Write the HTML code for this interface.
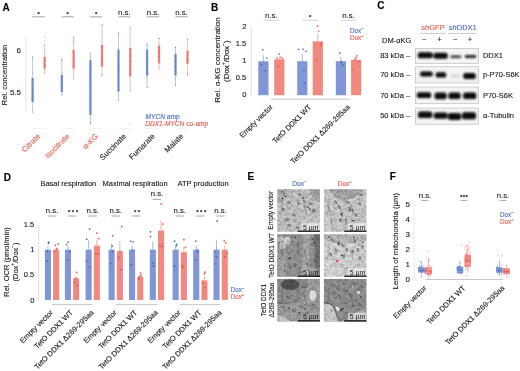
<!DOCTYPE html>
<html><head><meta charset="utf-8"><title>Figure</title>
<style>html,body{margin:0;padding:0;background:#fff;overflow:hidden;}svg{display:block;filter:blur(0.35px)}text{font-family:"Liberation Sans",sans-serif;}</style>
</head><body>
<svg width="520" height="371" viewBox="0 0 520 371">
<rect width="520" height="371" fill="#ffffff"/>
<text x="2.5" y="10.7" font-size="10" fill="#000" stroke="#000" stroke-width="0.12" font-weight="bold">A</text>
<text x="211" y="10.7" font-size="10" fill="#000" stroke="#000" stroke-width="0.12" font-weight="bold">B</text>
<text x="377.3" y="9.4" font-size="10" fill="#000" stroke="#000" stroke-width="0.12" font-weight="bold">C</text>
<text x="3.8" y="180.6" font-size="10" fill="#000" stroke="#000" stroke-width="0.12" font-weight="bold">D</text>
<text x="247.5" y="180.2" font-size="10" fill="#000" stroke="#000" stroke-width="0.12" font-weight="bold">E</text>
<text x="389.8" y="180" font-size="10" fill="#000" stroke="#000" stroke-width="0.12" font-weight="bold">F</text>
<text x="6.7" y="75" font-size="7.5" fill="#1a1a1a" stroke="#1a1a1a" stroke-width="0.12" text-anchor="middle" transform="rotate(-90 6.7 75)">Rel. concentration</text>
<text x="21.0" y="52.8" font-size="8" fill="#1a1a1a" stroke="#1a1a1a" stroke-width="0.12" text-anchor="end">6</text>
<text x="21.0" y="94.6" font-size="8" fill="#1a1a1a" stroke="#1a1a1a" stroke-width="0.12" text-anchor="end">5.5</text>
<line x1="25.9" y1="37" x2="25.9" y2="112" stroke="#dadada" stroke-width="0.7"/>
<line x1="32.6" y1="57" x2="32.6" y2="112" stroke="#a8bfe6" stroke-width="0.8"/>
<rect x="31.45" y="78.00" width="2.30" height="24.00" fill="#6283c9" opacity="0.88"/>
<circle cx="32.75" cy="92.95" r="0.6" fill="#4164c4" opacity="0.45"/>
<circle cx="32.87" cy="97.08" r="0.6" fill="#4164c4" opacity="0.45"/>
<circle cx="32.85" cy="95.76" r="0.6" fill="#4164c4" opacity="0.45"/>
<circle cx="32.58" cy="78.70" r="0.6" fill="#4164c4" opacity="0.45"/>
<circle cx="32.69" cy="100.64" r="0.6" fill="#4164c4" opacity="0.45"/>
<circle cx="32.37" cy="99.62" r="0.6" fill="#4164c4" opacity="0.45"/>
<circle cx="32.47" cy="82.80" r="0.55" fill="#6283c9" opacity="0.55"/>
<circle cx="32.64" cy="86.91" r="0.55" fill="#6283c9" opacity="0.55"/>
<circle cx="32.46" cy="57.72" r="0.55" fill="#6283c9" opacity="0.55"/>
<circle cx="32.81" cy="72.37" r="0.55" fill="#6283c9" opacity="0.55"/>
<circle cx="32.43" cy="99.11" r="0.55" fill="#6283c9" opacity="0.55"/>
<circle cx="32.60" cy="57.00" r="0.6" fill="#5a6a98" opacity="0.8"/>
<circle cx="32.60" cy="112.00" r="0.6" fill="#5a6a98" opacity="0.8"/>
<line x1="44.6" y1="45" x2="44.6" y2="73" stroke="#f4b2ab" stroke-width="0.8"/>
<rect x="43.45" y="57.00" width="2.30" height="11.40" fill="#ee726c" opacity="0.88"/>
<circle cx="44.38" cy="66.09" r="0.6" fill="#ea4a3e" opacity="0.45"/>
<circle cx="44.38" cy="64.04" r="0.6" fill="#ea4a3e" opacity="0.45"/>
<circle cx="44.82" cy="57.02" r="0.6" fill="#ea4a3e" opacity="0.45"/>
<circle cx="44.43" cy="59.39" r="0.6" fill="#ea4a3e" opacity="0.45"/>
<circle cx="44.82" cy="68.20" r="0.6" fill="#ea4a3e" opacity="0.45"/>
<circle cx="44.88" cy="60.30" r="0.6" fill="#ea4a3e" opacity="0.45"/>
<circle cx="44.69" cy="60.10" r="0.55" fill="#ee726c" opacity="0.55"/>
<circle cx="44.82" cy="50.73" r="0.55" fill="#ee726c" opacity="0.55"/>
<circle cx="44.83" cy="64.34" r="0.55" fill="#ee726c" opacity="0.55"/>
<circle cx="44.50" cy="70.02" r="0.55" fill="#ee726c" opacity="0.55"/>
<circle cx="44.43" cy="55.11" r="0.55" fill="#ee726c" opacity="0.55"/>
<circle cx="44.60" cy="45.00" r="0.6" fill="#b86a68" opacity="0.8"/>
<circle cx="44.60" cy="73.00" r="0.6" fill="#b86a68" opacity="0.8"/>
<line x1="32.4" y1="16.8" x2="44.800000000000004" y2="16.8" stroke="#a6a6a6" stroke-width="1.0"/>
<text x="38.6" y="15.6" font-size="6" fill="#1a1a1a" stroke="#1a1a1a" stroke-width="0.12" text-anchor="middle" font-weight="bold">*</text>
<line x1="32.1" y1="128.4" x2="45.1" y2="128.4" stroke="#f4e6e6" stroke-width="0.7"/>
<text x="40.9" y="136.8" font-size="7.7" fill="#ea5a4e" stroke="#ea5a4e" stroke-width="0.12" text-anchor="end" transform="rotate(-45 40.9 136.8)">Citrate</text>
<line x1="61.8" y1="59" x2="61.8" y2="95" stroke="#a8bfe6" stroke-width="0.8"/>
<rect x="60.65" y="75.00" width="2.30" height="17.00" fill="#6283c9" opacity="0.88"/>
<circle cx="61.54" cy="77.48" r="0.6" fill="#4164c4" opacity="0.45"/>
<circle cx="61.86" cy="80.12" r="0.6" fill="#4164c4" opacity="0.45"/>
<circle cx="61.91" cy="75.06" r="0.6" fill="#4164c4" opacity="0.45"/>
<circle cx="61.69" cy="80.74" r="0.6" fill="#4164c4" opacity="0.45"/>
<circle cx="61.79" cy="88.91" r="0.6" fill="#4164c4" opacity="0.45"/>
<circle cx="61.79" cy="80.37" r="0.6" fill="#4164c4" opacity="0.45"/>
<circle cx="61.58" cy="84.37" r="0.55" fill="#6283c9" opacity="0.55"/>
<circle cx="61.56" cy="94.10" r="0.55" fill="#6283c9" opacity="0.55"/>
<circle cx="61.97" cy="85.99" r="0.55" fill="#6283c9" opacity="0.55"/>
<circle cx="61.94" cy="59.65" r="0.55" fill="#6283c9" opacity="0.55"/>
<circle cx="61.84" cy="72.18" r="0.55" fill="#6283c9" opacity="0.55"/>
<circle cx="61.80" cy="59.00" r="0.6" fill="#5a6a98" opacity="0.8"/>
<circle cx="61.80" cy="95.00" r="0.6" fill="#5a6a98" opacity="0.8"/>
<line x1="73.6" y1="37" x2="73.6" y2="79" stroke="#f4b2ab" stroke-width="0.8"/>
<rect x="72.45" y="50.00" width="2.30" height="18.40" fill="#ee726c" opacity="0.88"/>
<circle cx="73.33" cy="50.17" r="0.6" fill="#ea4a3e" opacity="0.45"/>
<circle cx="73.87" cy="53.33" r="0.6" fill="#ea4a3e" opacity="0.45"/>
<circle cx="73.75" cy="53.62" r="0.6" fill="#ea4a3e" opacity="0.45"/>
<circle cx="73.87" cy="67.11" r="0.6" fill="#ea4a3e" opacity="0.45"/>
<circle cx="73.51" cy="56.34" r="0.6" fill="#ea4a3e" opacity="0.45"/>
<circle cx="73.77" cy="59.65" r="0.6" fill="#ea4a3e" opacity="0.45"/>
<circle cx="73.72" cy="41.54" r="0.55" fill="#ee726c" opacity="0.55"/>
<circle cx="73.78" cy="70.48" r="0.55" fill="#ee726c" opacity="0.55"/>
<circle cx="73.82" cy="38.54" r="0.55" fill="#ee726c" opacity="0.55"/>
<circle cx="73.52" cy="40.83" r="0.55" fill="#ee726c" opacity="0.55"/>
<circle cx="73.81" cy="62.65" r="0.55" fill="#ee726c" opacity="0.55"/>
<circle cx="73.60" cy="37.00" r="0.6" fill="#b86a68" opacity="0.8"/>
<circle cx="73.60" cy="79.00" r="0.6" fill="#b86a68" opacity="0.8"/>
<line x1="61.599999999999994" y1="16.8" x2="73.8" y2="16.8" stroke="#a6a6a6" stroke-width="1.0"/>
<text x="67.69999999999999" y="15.6" font-size="6" fill="#1a1a1a" stroke="#1a1a1a" stroke-width="0.12" text-anchor="middle" font-weight="bold">*</text>
<line x1="61.3" y1="128.4" x2="74.1" y2="128.4" stroke="#f4e6e6" stroke-width="0.7"/>
<text x="69.99999999999999" y="136.8" font-size="7.7" fill="#ea5a4e" stroke="#ea5a4e" stroke-width="0.12" text-anchor="end" transform="rotate(-45 69.99999999999999 136.8)">Isocitrate</text>
<line x1="90.4" y1="53" x2="90.4" y2="123.5" stroke="#a8bfe6" stroke-width="0.8"/>
<rect x="89.25" y="60.00" width="2.30" height="55.00" fill="#6283c9" opacity="0.88"/>
<circle cx="90.65" cy="78.70" r="0.6" fill="#4164c4" opacity="0.45"/>
<circle cx="90.29" cy="89.98" r="0.6" fill="#4164c4" opacity="0.45"/>
<circle cx="90.21" cy="77.42" r="0.6" fill="#4164c4" opacity="0.45"/>
<circle cx="90.19" cy="64.30" r="0.6" fill="#4164c4" opacity="0.45"/>
<circle cx="90.70" cy="97.90" r="0.6" fill="#4164c4" opacity="0.45"/>
<circle cx="90.13" cy="68.88" r="0.6" fill="#4164c4" opacity="0.45"/>
<circle cx="90.42" cy="122.56" r="0.55" fill="#6283c9" opacity="0.55"/>
<circle cx="90.27" cy="81.62" r="0.55" fill="#6283c9" opacity="0.55"/>
<circle cx="90.56" cy="94.87" r="0.55" fill="#6283c9" opacity="0.55"/>
<circle cx="90.36" cy="85.12" r="0.55" fill="#6283c9" opacity="0.55"/>
<circle cx="90.61" cy="56.93" r="0.55" fill="#6283c9" opacity="0.55"/>
<circle cx="90.40" cy="53.00" r="0.6" fill="#5a6a98" opacity="0.8"/>
<circle cx="90.40" cy="123.50" r="0.6" fill="#5a6a98" opacity="0.8"/>
<line x1="102" y1="24.7" x2="102" y2="75.8" stroke="#f4b2ab" stroke-width="0.8"/>
<rect x="100.85" y="45.00" width="2.30" height="21.80" fill="#ee726c" opacity="0.88"/>
<circle cx="102.00" cy="45.71" r="0.6" fill="#ea4a3e" opacity="0.45"/>
<circle cx="101.78" cy="63.28" r="0.6" fill="#ea4a3e" opacity="0.45"/>
<circle cx="102.27" cy="60.95" r="0.6" fill="#ea4a3e" opacity="0.45"/>
<circle cx="102.17" cy="58.74" r="0.6" fill="#ea4a3e" opacity="0.45"/>
<circle cx="101.96" cy="47.32" r="0.6" fill="#ea4a3e" opacity="0.45"/>
<circle cx="102.21" cy="48.25" r="0.6" fill="#ea4a3e" opacity="0.45"/>
<circle cx="101.98" cy="39.76" r="0.55" fill="#ee726c" opacity="0.55"/>
<circle cx="102.18" cy="75.76" r="0.55" fill="#ee726c" opacity="0.55"/>
<circle cx="101.98" cy="74.57" r="0.55" fill="#ee726c" opacity="0.55"/>
<circle cx="102.11" cy="49.64" r="0.55" fill="#ee726c" opacity="0.55"/>
<circle cx="101.90" cy="49.18" r="0.55" fill="#ee726c" opacity="0.55"/>
<circle cx="102.00" cy="24.70" r="0.6" fill="#b86a68" opacity="0.8"/>
<circle cx="102.00" cy="75.80" r="0.6" fill="#b86a68" opacity="0.8"/>
<line x1="90.2" y1="16.8" x2="102.2" y2="16.8" stroke="#a6a6a6" stroke-width="1.0"/>
<text x="96.2" y="15.6" font-size="6" fill="#1a1a1a" stroke="#1a1a1a" stroke-width="0.12" text-anchor="middle" font-weight="bold">*</text>
<line x1="89.9" y1="128.4" x2="102.5" y2="128.4" stroke="#f4e6e6" stroke-width="0.7"/>
<text x="98.5" y="136.8" font-size="7.7" fill="#ea5a4e" stroke="#ea5a4e" stroke-width="0.12" text-anchor="end" transform="rotate(-45 98.5 136.8)">α-KG</text>
<line x1="118.5" y1="32.8" x2="118.5" y2="100.5" stroke="#a8bfe6" stroke-width="0.8"/>
<rect x="117.35" y="49.50" width="2.30" height="42.00" fill="#6283c9" opacity="0.88"/>
<circle cx="118.29" cy="66.46" r="0.6" fill="#4164c4" opacity="0.45"/>
<circle cx="118.79" cy="65.33" r="0.6" fill="#4164c4" opacity="0.45"/>
<circle cx="118.58" cy="89.81" r="0.6" fill="#4164c4" opacity="0.45"/>
<circle cx="118.40" cy="70.47" r="0.6" fill="#4164c4" opacity="0.45"/>
<circle cx="118.36" cy="53.24" r="0.6" fill="#4164c4" opacity="0.45"/>
<circle cx="118.72" cy="82.34" r="0.6" fill="#4164c4" opacity="0.45"/>
<circle cx="118.64" cy="57.26" r="0.55" fill="#6283c9" opacity="0.55"/>
<circle cx="118.60" cy="85.26" r="0.55" fill="#6283c9" opacity="0.55"/>
<circle cx="118.63" cy="77.75" r="0.55" fill="#6283c9" opacity="0.55"/>
<circle cx="118.60" cy="57.40" r="0.55" fill="#6283c9" opacity="0.55"/>
<circle cx="118.49" cy="51.81" r="0.55" fill="#6283c9" opacity="0.55"/>
<circle cx="118.50" cy="32.80" r="0.6" fill="#5a6a98" opacity="0.8"/>
<circle cx="118.50" cy="100.50" r="0.6" fill="#5a6a98" opacity="0.8"/>
<line x1="130.2" y1="27.3" x2="130.2" y2="91" stroke="#f4b2ab" stroke-width="0.8"/>
<rect x="129.05" y="48.00" width="2.30" height="28.50" fill="#ee726c" opacity="0.88"/>
<circle cx="130.31" cy="69.94" r="0.6" fill="#ea4a3e" opacity="0.45"/>
<circle cx="130.47" cy="56.37" r="0.6" fill="#ea4a3e" opacity="0.45"/>
<circle cx="130.25" cy="66.52" r="0.6" fill="#ea4a3e" opacity="0.45"/>
<circle cx="130.23" cy="48.33" r="0.6" fill="#ea4a3e" opacity="0.45"/>
<circle cx="130.30" cy="55.14" r="0.6" fill="#ea4a3e" opacity="0.45"/>
<circle cx="130.39" cy="61.19" r="0.6" fill="#ea4a3e" opacity="0.45"/>
<circle cx="130.35" cy="68.54" r="0.55" fill="#ee726c" opacity="0.55"/>
<circle cx="130.27" cy="49.46" r="0.55" fill="#ee726c" opacity="0.55"/>
<circle cx="130.36" cy="74.30" r="0.55" fill="#ee726c" opacity="0.55"/>
<circle cx="130.37" cy="49.60" r="0.55" fill="#ee726c" opacity="0.55"/>
<circle cx="130.29" cy="82.71" r="0.55" fill="#ee726c" opacity="0.55"/>
<circle cx="130.20" cy="27.30" r="0.6" fill="#b86a68" opacity="0.8"/>
<circle cx="130.20" cy="91.00" r="0.6" fill="#b86a68" opacity="0.8"/>
<line x1="118.3" y1="16.8" x2="130.39999999999998" y2="16.8" stroke="#a6a6a6" stroke-width="1.0"/>
<text x="124.35" y="14.9" font-size="7.8" fill="#1a1a1a" stroke="#1a1a1a" stroke-width="0.12" text-anchor="middle">n.s.</text>
<line x1="118.0" y1="128.4" x2="130.7" y2="128.4" stroke="#e9e9e9" stroke-width="0.7"/>
<text x="126.64999999999999" y="136.8" font-size="7.7" fill="#1a1a1a" stroke="#1a1a1a" stroke-width="0.12" text-anchor="end" transform="rotate(-45 126.64999999999999 136.8)">Succinate</text>
<line x1="147.1" y1="44" x2="147.1" y2="87.5" stroke="#a8bfe6" stroke-width="0.8"/>
<rect x="145.95" y="49.50" width="2.30" height="26.00" fill="#6283c9" opacity="0.88"/>
<circle cx="147.37" cy="74.88" r="0.6" fill="#4164c4" opacity="0.45"/>
<circle cx="147.12" cy="62.97" r="0.6" fill="#4164c4" opacity="0.45"/>
<circle cx="147.30" cy="53.82" r="0.6" fill="#4164c4" opacity="0.45"/>
<circle cx="147.09" cy="73.87" r="0.6" fill="#4164c4" opacity="0.45"/>
<circle cx="147.23" cy="67.48" r="0.6" fill="#4164c4" opacity="0.45"/>
<circle cx="146.90" cy="68.49" r="0.6" fill="#4164c4" opacity="0.45"/>
<circle cx="147.14" cy="77.95" r="0.55" fill="#6283c9" opacity="0.55"/>
<circle cx="147.06" cy="72.95" r="0.55" fill="#6283c9" opacity="0.55"/>
<circle cx="147.24" cy="71.13" r="0.55" fill="#6283c9" opacity="0.55"/>
<circle cx="147.21" cy="71.70" r="0.55" fill="#6283c9" opacity="0.55"/>
<circle cx="146.93" cy="45.20" r="0.55" fill="#6283c9" opacity="0.55"/>
<circle cx="147.10" cy="44.00" r="0.6" fill="#5a6a98" opacity="0.8"/>
<circle cx="147.10" cy="87.50" r="0.6" fill="#5a6a98" opacity="0.8"/>
<line x1="159" y1="38.3" x2="159" y2="68.6" stroke="#f4b2ab" stroke-width="0.8"/>
<rect x="157.85" y="46.00" width="2.30" height="17.50" fill="#ee726c" opacity="0.88"/>
<circle cx="159.09" cy="53.72" r="0.6" fill="#ea4a3e" opacity="0.45"/>
<circle cx="159.11" cy="49.83" r="0.6" fill="#ea4a3e" opacity="0.45"/>
<circle cx="158.73" cy="57.04" r="0.6" fill="#ea4a3e" opacity="0.45"/>
<circle cx="158.84" cy="54.25" r="0.6" fill="#ea4a3e" opacity="0.45"/>
<circle cx="158.78" cy="46.95" r="0.6" fill="#ea4a3e" opacity="0.45"/>
<circle cx="158.81" cy="51.55" r="0.6" fill="#ea4a3e" opacity="0.45"/>
<circle cx="158.77" cy="44.16" r="0.55" fill="#ee726c" opacity="0.55"/>
<circle cx="158.94" cy="52.40" r="0.55" fill="#ee726c" opacity="0.55"/>
<circle cx="159.05" cy="56.84" r="0.55" fill="#ee726c" opacity="0.55"/>
<circle cx="159.20" cy="45.51" r="0.55" fill="#ee726c" opacity="0.55"/>
<circle cx="158.95" cy="38.32" r="0.55" fill="#ee726c" opacity="0.55"/>
<circle cx="159.00" cy="38.30" r="0.6" fill="#b86a68" opacity="0.8"/>
<circle cx="159.00" cy="68.60" r="0.6" fill="#b86a68" opacity="0.8"/>
<line x1="146.9" y1="16.8" x2="159.2" y2="16.8" stroke="#a6a6a6" stroke-width="1.0"/>
<text x="153.05" y="14.9" font-size="7.8" fill="#1a1a1a" stroke="#1a1a1a" stroke-width="0.12" text-anchor="middle">n.s.</text>
<line x1="146.6" y1="128.4" x2="159.5" y2="128.4" stroke="#e9e9e9" stroke-width="0.7"/>
<text x="155.35000000000002" y="136.8" font-size="7.7" fill="#1a1a1a" stroke="#1a1a1a" stroke-width="0.12" text-anchor="end" transform="rotate(-45 155.35000000000002 136.8)">Fumarate</text>
<line x1="175.5" y1="47.4" x2="175.5" y2="85.5" stroke="#a8bfe6" stroke-width="0.8"/>
<rect x="174.35" y="53.80" width="2.30" height="21.70" fill="#6283c9" opacity="0.88"/>
<circle cx="175.45" cy="59.84" r="0.6" fill="#4164c4" opacity="0.45"/>
<circle cx="175.70" cy="56.30" r="0.6" fill="#4164c4" opacity="0.45"/>
<circle cx="175.22" cy="61.91" r="0.6" fill="#4164c4" opacity="0.45"/>
<circle cx="175.26" cy="67.11" r="0.6" fill="#4164c4" opacity="0.45"/>
<circle cx="175.40" cy="65.63" r="0.6" fill="#4164c4" opacity="0.45"/>
<circle cx="175.77" cy="66.41" r="0.6" fill="#4164c4" opacity="0.45"/>
<circle cx="175.46" cy="78.59" r="0.55" fill="#6283c9" opacity="0.55"/>
<circle cx="175.57" cy="78.37" r="0.55" fill="#6283c9" opacity="0.55"/>
<circle cx="175.32" cy="61.48" r="0.55" fill="#6283c9" opacity="0.55"/>
<circle cx="175.53" cy="70.11" r="0.55" fill="#6283c9" opacity="0.55"/>
<circle cx="175.73" cy="83.87" r="0.55" fill="#6283c9" opacity="0.55"/>
<circle cx="175.50" cy="47.40" r="0.6" fill="#5a6a98" opacity="0.8"/>
<circle cx="175.50" cy="85.50" r="0.6" fill="#5a6a98" opacity="0.8"/>
<line x1="187.5" y1="39.3" x2="187.5" y2="75" stroke="#f4b2ab" stroke-width="0.8"/>
<rect x="186.35" y="50.60" width="2.30" height="13.20" fill="#ee726c" opacity="0.88"/>
<circle cx="187.41" cy="58.63" r="0.6" fill="#ea4a3e" opacity="0.45"/>
<circle cx="187.20" cy="62.39" r="0.6" fill="#ea4a3e" opacity="0.45"/>
<circle cx="187.54" cy="52.02" r="0.6" fill="#ea4a3e" opacity="0.45"/>
<circle cx="187.28" cy="58.72" r="0.6" fill="#ea4a3e" opacity="0.45"/>
<circle cx="187.73" cy="58.91" r="0.6" fill="#ea4a3e" opacity="0.45"/>
<circle cx="187.46" cy="55.56" r="0.6" fill="#ea4a3e" opacity="0.45"/>
<circle cx="187.40" cy="47.38" r="0.55" fill="#ee726c" opacity="0.55"/>
<circle cx="187.44" cy="74.02" r="0.55" fill="#ee726c" opacity="0.55"/>
<circle cx="187.71" cy="73.61" r="0.55" fill="#ee726c" opacity="0.55"/>
<circle cx="187.38" cy="60.57" r="0.55" fill="#ee726c" opacity="0.55"/>
<circle cx="187.50" cy="74.32" r="0.55" fill="#ee726c" opacity="0.55"/>
<circle cx="187.50" cy="39.30" r="0.6" fill="#b86a68" opacity="0.8"/>
<circle cx="187.50" cy="75.00" r="0.6" fill="#b86a68" opacity="0.8"/>
<line x1="175.3" y1="16.8" x2="187.7" y2="16.8" stroke="#a6a6a6" stroke-width="1.0"/>
<text x="181.5" y="14.9" font-size="7.8" fill="#1a1a1a" stroke="#1a1a1a" stroke-width="0.12" text-anchor="middle">n.s.</text>
<line x1="175.0" y1="128.4" x2="188.0" y2="128.4" stroke="#e9e9e9" stroke-width="0.7"/>
<text x="183.8" y="136.8" font-size="7.7" fill="#1a1a1a" stroke="#1a1a1a" stroke-width="0.12" text-anchor="end" transform="rotate(-45 183.8 136.8)">Malate</text>
<circle cx="44.60" cy="37.00" r="0.6" fill="#ea4a3e" opacity="0.7"/>
<circle cx="44.60" cy="41.00" r="0.6" fill="#ea4a3e" opacity="0.7"/>
<circle cx="130.20" cy="124.00" r="0.6" fill="#ea4a3e" opacity="0.6"/>
<text x="145.6" y="118.5" font-size="6.6" fill="#4a6ec0" stroke="#4a6ec0" stroke-width="0.12"><tspan font-style="italic">MYCN</tspan> amp</text>
<text x="145.2" y="125.9" font-size="6.6" fill="#ea5a4e" stroke="#ea5a4e" stroke-width="0.12"><tspan font-style="italic">DDX1-MYCN</tspan> co-amp</text>
<text x="219.8" y="60" font-size="8" fill="#1a1a1a" stroke="#1a1a1a" stroke-width="0.12" text-anchor="middle" transform="rotate(-90 219.8 60)">Rel. α-KG concentration</text>
<text x="228.8" y="61.2" font-size="8" fill="#1a1a1a" stroke="#1a1a1a" stroke-width="0.12" text-anchor="middle" transform="rotate(-90 228.8 61.2)">(Dox<tspan font-size="60%" dy="-0.75em">+</tspan><tspan dy='0.45em'>/Dox</tspan><tspan font-size="60%" dy="-0.75em">−</tspan><tspan dy='0.45em'>)</tspan></text>
<text x="246.3" y="28.60000000000001" font-size="7.5" fill="#1a1a1a" stroke="#1a1a1a" stroke-width="0.12" text-anchor="end">2</text>
<text x="246.3" y="45.75000000000001" font-size="7.5" fill="#1a1a1a" stroke="#1a1a1a" stroke-width="0.12" text-anchor="end">1.5</text>
<text x="246.3" y="62.900000000000006" font-size="7.5" fill="#1a1a1a" stroke="#1a1a1a" stroke-width="0.12" text-anchor="end">1</text>
<text x="246.3" y="80.05000000000001" font-size="7.5" fill="#1a1a1a" stroke="#1a1a1a" stroke-width="0.12" text-anchor="end">0.5</text>
<text x="246.3" y="97.2" font-size="7.5" fill="#1a1a1a" stroke="#1a1a1a" stroke-width="0.12" text-anchor="end">0</text>
<line x1="251.2" y1="26.60000000000001" x2="251.2" y2="95.2" stroke="#cfcfcf" stroke-width="0.7"/>
<rect x="258.30" y="61.24" width="10.20" height="33.96" fill="#8196d4"/>
<line x1="263.40000000000003" y1="55.285868392664504" x2="263.40000000000003" y2="62.24300000000001" stroke="#8196d4" stroke-width="0.7"/>
<circle cx="262.68" cy="49.89" r="0.85" fill="#4164c4" opacity="0.9"/>
<circle cx="266.72" cy="57.98" r="0.85" fill="#4164c4" opacity="0.9"/>
<circle cx="261.60" cy="64.72" r="0.85" fill="#4164c4" opacity="0.9"/>
<circle cx="265.37" cy="70.66" r="0.85" fill="#4164c4" opacity="0.9"/>
<rect x="274.20" y="59.36" width="10.20" height="35.84" fill="#f08a80"/>
<line x1="279.3" y1="55.285868392664504" x2="279.3" y2="60.35650000000001" stroke="#f08a80" stroke-width="0.7"/>
<circle cx="279.13" cy="53.94" r="0.85" fill="#ea4a3e" opacity="0.9"/>
<circle cx="276.97" cy="57.98" r="0.85" fill="#ea4a3e" opacity="0.9"/>
<circle cx="281.01" cy="57.44" r="0.85" fill="#ea4a3e" opacity="0.9"/>
<circle cx="282.90" cy="58.79" r="0.85" fill="#ea4a3e" opacity="0.9"/>
<circle cx="278.32" cy="66.07" r="0.85" fill="#ea4a3e" opacity="0.9"/>
<line x1="263.40000000000003" y1="20.2" x2="279.3" y2="20.2" stroke="#c4c4c4" stroke-width="0.8"/>
<text x="271.35" y="17.8" font-size="7.8" fill="#1a1a1a" stroke="#1a1a1a" stroke-width="0.12" text-anchor="middle">n.s.</text>
<text x="273.15000000000003" y="107.6" font-size="7.45" fill="#1a1a1a" stroke="#1a1a1a" stroke-width="0.12" text-anchor="end" transform="rotate(-45 273.15000000000003 107.6)">Empty vector</text>
<rect x="297.20" y="61.24" width="10.20" height="33.96" fill="#8196d4"/>
<line x1="302.3" y1="53.937432578209275" x2="302.3" y2="62.24300000000001" stroke="#8196d4" stroke-width="0.7"/>
<circle cx="298.54" cy="49.35" r="0.85" fill="#4164c4" opacity="0.9"/>
<circle cx="303.13" cy="49.35" r="0.85" fill="#4164c4" opacity="0.9"/>
<circle cx="306.09" cy="51.24" r="0.85" fill="#4164c4" opacity="0.9"/>
<circle cx="303.94" cy="70.66" r="0.85" fill="#4164c4" opacity="0.9"/>
<circle cx="304.75" cy="83.06" r="0.85" fill="#4164c4" opacity="0.9"/>
<rect x="312.70" y="41.35" width="10.20" height="53.85" fill="#f08a80"/>
<line x1="317.8" y1="33.7108953613808" x2="317.8" y2="42.349000000000004" stroke="#f08a80" stroke-width="0.7"/>
<circle cx="317.42" cy="26.16" r="0.85" fill="#ea4a3e" opacity="0.9"/>
<circle cx="318.77" cy="31.01" r="0.85" fill="#ea4a3e" opacity="0.9"/>
<circle cx="321.47" cy="43.15" r="0.85" fill="#ea4a3e" opacity="0.9"/>
<circle cx="320.66" cy="45.31" r="0.85" fill="#ea4a3e" opacity="0.9"/>
<circle cx="316.88" cy="60.68" r="0.85" fill="#ea4a3e" opacity="0.9"/>
<line x1="302.3" y1="20.2" x2="317.8" y2="20.2" stroke="#c4c4c4" stroke-width="0.8"/>
<text x="310.05" y="19.4" font-size="6" fill="#1a1a1a" stroke="#1a1a1a" stroke-width="0.12" text-anchor="middle" font-weight="bold">*</text>
<text x="311.85" y="107.6" font-size="7.45" fill="#1a1a1a" stroke="#1a1a1a" stroke-width="0.12" text-anchor="end" transform="rotate(-45 311.85 107.6)">TetO DDX1 WT</text>
<rect x="335.80" y="61.24" width="10.20" height="33.96" fill="#8196d4"/>
<line x1="340.90000000000003" y1="56.63430420711974" x2="340.90000000000003" y2="62.24300000000001" stroke="#8196d4" stroke-width="0.7"/>
<circle cx="339.81" cy="53.13" r="0.85" fill="#4164c4" opacity="0.9"/>
<circle cx="341.69" cy="62.57" r="0.85" fill="#4164c4" opacity="0.9"/>
<circle cx="343.04" cy="64.72" r="0.85" fill="#4164c4" opacity="0.9"/>
<circle cx="341.15" cy="61.49" r="0.85" fill="#4164c4" opacity="0.9"/>
<rect x="351.10" y="59.87" width="10.20" height="35.33" fill="#f08a80"/>
<line x1="356.20000000000005" y1="56.09492988133765" x2="356.20000000000005" y2="60.871" stroke="#f08a80" stroke-width="0.7"/>
<circle cx="357.07" cy="55.83" r="0.85" fill="#ea4a3e" opacity="0.9"/>
<circle cx="355.72" cy="57.98" r="0.85" fill="#ea4a3e" opacity="0.9"/>
<circle cx="354.64" cy="59.87" r="0.85" fill="#ea4a3e" opacity="0.9"/>
<circle cx="358.68" cy="61.49" r="0.85" fill="#ea4a3e" opacity="0.9"/>
<circle cx="352.48" cy="69.58" r="0.85" fill="#ea4a3e" opacity="0.9"/>
<line x1="340.90000000000003" y1="20.2" x2="356.20000000000005" y2="20.2" stroke="#c4c4c4" stroke-width="0.8"/>
<text x="348.55000000000007" y="17.8" font-size="7.8" fill="#1a1a1a" stroke="#1a1a1a" stroke-width="0.12" text-anchor="middle">n.s.</text>
<text x="350.3500000000001" y="107.6" font-size="7.45" fill="#1a1a1a" stroke="#1a1a1a" stroke-width="0.12" text-anchor="end" transform="rotate(-45 350.3500000000001 107.6)">TetO DDX1 Δ269-295aa</text>
<line x1="271" y1="99.2" x2="349.5" y2="99.2" stroke="#c6c6c6" stroke-width="1.0"/>
<text x="350" y="32.5" font-size="6.3" fill="#4a6ec0" stroke="#4a6ec0" stroke-width="0.12">Dox<tspan font-size="60%" dy="-0.75em">−</tspan></text>
<text x="350" y="39.6" font-size="6.3" fill="#ea5a4e" stroke="#ea5a4e" stroke-width="0.12">Dox<tspan font-size="60%" dy="-0.75em">+</tspan></text>
<text x="421.3" y="30" font-size="7.5" fill="#ea5a4e" stroke="#ea5a4e" stroke-width="0.12"><tspan font-style="italic">sh</tspan>GFP</text>
<text x="448.8" y="30" font-size="7.5" fill="#4a6ec0" stroke="#4a6ec0" stroke-width="0.12"><tspan font-style="italic">sh</tspan>DDX1</text>
<line x1="420" y1="33.4" x2="445.3" y2="33.4" stroke="#c4b8b8" stroke-width="0.8"/>
<line x1="448.2" y1="33.4" x2="476.4" y2="33.4" stroke="#b6bacb" stroke-width="0.8"/>
<text x="382" y="42.5" font-size="7.5" fill="#1a1a1a" stroke="#1a1a1a" stroke-width="0.12">DM-αKG</text>
<text x="424.3" y="41.8" font-size="7.5" fill="#1a1a1a" stroke="#1a1a1a" stroke-width="0.12" text-anchor="middle">−</text>
<text x="439.4" y="41.8" font-size="7.5" fill="#1a1a1a" stroke="#1a1a1a" stroke-width="0.12" text-anchor="middle">+</text>
<text x="455.2" y="41.8" font-size="7.5" fill="#1a1a1a" stroke="#1a1a1a" stroke-width="0.12" text-anchor="middle">−</text>
<text x="469.9" y="41.8" font-size="7.5" fill="#1a1a1a" stroke="#1a1a1a" stroke-width="0.12" text-anchor="middle">+</text>
<defs><filter id="bl" x="-20%" y="-50%" width="140%" height="200%"><feGaussianBlur stdDeviation="0.85"/></filter></defs>
<rect x="415.50" y="48.30" width="63.20" height="15.10" fill="#f3f3f3" stroke="#a6a6a6" stroke-width="0.5"/>
<g filter="url(#bl)">
<rect x="417.8" y="52.30" width="15.00" height="6.0" rx="2.60" fill="#080808" opacity="1"/>
<rect x="433.6" y="52.80" width="14.10" height="6.0" rx="2.60" fill="#080808" opacity="1"/>
<rect x="450.5" y="55.40" width="10.70" height="2.6" rx="1.30" fill="#080808" opacity="0.85"/>
<rect x="464.8" y="55.05" width="11.30" height="2.9" rx="1.45" fill="#080808" opacity="0.9"/>
</g>
<text x="410.2" y="58.1" font-size="7.5" fill="#1a1a1a" stroke="#1a1a1a" stroke-width="0.12" text-anchor="end">83 kDa –</text>
<text x="482.9" y="58.1" font-size="7.5" fill="#1a1a1a" stroke="#1a1a1a" stroke-width="0.12">DDX1</text>
<rect x="415.50" y="66.80" width="63.20" height="16.20" fill="#f3f3f3" stroke="#a6a6a6" stroke-width="0.5"/>
<g filter="url(#bl)">
<rect x="420" y="71.50" width="12.80" height="5.0" rx="2.50" fill="#080808" opacity="1"/>
<rect x="435.6" y="72.20" width="10.70" height="5.4" rx="2.60" fill="#080808" opacity="1"/>
<rect x="450.5" y="74.70" width="9.50" height="2.6" rx="1.30" fill="#080808" opacity="0.14"/>
<rect x="463.3" y="73.00" width="12.40" height="6.0" rx="2.60" fill="#080808" opacity="1"/>
</g>
<text x="410.2" y="77.2" font-size="7.5" fill="#1a1a1a" stroke="#1a1a1a" stroke-width="0.12" text-anchor="end">70 kDa –</text>
<text x="482.9" y="77.2" font-size="7.5" fill="#1a1a1a" stroke="#1a1a1a" stroke-width="0.12">p-P70-S6K</text>
<rect x="415.50" y="87.00" width="63.20" height="16.80" fill="#f3f3f3" stroke="#a6a6a6" stroke-width="0.5"/>
<g filter="url(#bl)">
<rect x="416.8" y="92.30" width="14.40" height="5.8" rx="2.60" fill="#080808" opacity="1"/>
<rect x="434.6" y="92.50" width="12.00" height="6.8" rx="2.60" fill="#080808" opacity="1"/>
<rect x="448.4" y="92.40" width="12.20" height="6.6" rx="2.60" fill="#080808" opacity="1"/>
<rect x="463.2" y="92.50" width="13.10" height="6.6" rx="2.60" fill="#080808" opacity="1"/>
</g>
<text x="410.2" y="97.7" font-size="7.5" fill="#1a1a1a" stroke="#1a1a1a" stroke-width="0.12" text-anchor="end">70 kDa –</text>
<text x="482.9" y="97.7" font-size="7.5" fill="#1a1a1a" stroke="#1a1a1a" stroke-width="0.12">P70-S6K</text>
<rect x="415.50" y="108.00" width="63.20" height="16.20" fill="#f3f3f3" stroke="#a6a6a6" stroke-width="0.5"/>
<g filter="url(#bl)">
<rect x="418" y="111.60" width="14.30" height="6.4" rx="2.60" fill="#080808" opacity="1"/>
<rect x="433.8" y="112.40" width="13.80" height="6.4" rx="2.60" fill="#080808" opacity="1"/>
<rect x="448.0" y="112.90" width="13.20" height="7.0" rx="2.60" fill="#080808" opacity="1"/>
<rect x="462" y="112.30" width="14.00" height="7.0" rx="2.60" fill="#080808" opacity="1"/>
</g>
<text x="410.2" y="118.10000000000001" font-size="7.5" fill="#1a1a1a" stroke="#1a1a1a" stroke-width="0.12" text-anchor="end">50 kDa –</text>
<text x="482.9" y="118.10000000000001" font-size="7.5" fill="#1a1a1a" stroke="#1a1a1a" stroke-width="0.12">α-Tubulin</text>
<text x="9.4" y="262" font-size="7.5" fill="#1a1a1a" stroke="#1a1a1a" stroke-width="0.12" text-anchor="middle" transform="rotate(-90 9.4 262)">Rel. OCR (pmol/min)</text>
<text x="17.8" y="262" font-size="7.5" fill="#1a1a1a" stroke="#1a1a1a" stroke-width="0.12" text-anchor="middle" transform="rotate(-90 17.8 262)">(Dox<tspan font-size="60%" dy="-0.75em">+</tspan><tspan dy='0.45em'>/Dox</tspan><tspan font-size="60%" dy="-0.75em">−</tspan><tspan dy='0.45em'>)</tspan></text>
<text x="34.3" y="227.15" font-size="7.5" fill="#1a1a1a" stroke="#1a1a1a" stroke-width="0.12" text-anchor="end">1.5</text>
<text x="34.3" y="252.29999999999998" font-size="7.5" fill="#1a1a1a" stroke="#1a1a1a" stroke-width="0.12" text-anchor="end">1</text>
<text x="34.3" y="277.45000000000005" font-size="7.5" fill="#1a1a1a" stroke="#1a1a1a" stroke-width="0.12" text-anchor="end">0.5</text>
<text x="34.3" y="302.6" font-size="7.5" fill="#1a1a1a" stroke="#1a1a1a" stroke-width="0.12" text-anchor="end">0</text>
<line x1="38.7" y1="224.55" x2="38.7" y2="300" stroke="#cfcfcf" stroke-width="0.7"/>
<text x="40.4" y="185.9" font-size="7.5" fill="#1a1a1a" stroke="#1a1a1a" stroke-width="0.12">Basal respiration</text>
<text x="102.6" y="185.9" font-size="7.5" fill="#1a1a1a" stroke="#1a1a1a" stroke-width="0.12">Maximal respiration</text>
<text x="177.6" y="185.9" font-size="7.5" fill="#1a1a1a" stroke="#1a1a1a" stroke-width="0.12">ATP production</text>
<rect x="44.90" y="249.70" width="6.10" height="50.30" fill="#8196d4"/>
<line x1="47.949999999999996" y1="246.31800970873786" x2="47.949999999999996" y2="250.7" stroke="#8196d4" stroke-width="0.7"/>
<circle cx="48.83" cy="242.18" r="0.9" fill="#4164c4" opacity="0.9"/>
<circle cx="48.35" cy="243.40" r="0.9" fill="#4164c4" opacity="0.9"/>
<circle cx="47.14" cy="251.41" r="0.9" fill="#4164c4" opacity="0.9"/>
<circle cx="47.14" cy="261.12" r="0.9" fill="#4164c4" opacity="0.9"/>
<rect x="53.10" y="249.70" width="6.10" height="50.30" fill="#f08a80"/>
<line x1="56.14999999999999" y1="247.19179611650483" x2="56.14999999999999" y2="250.7" stroke="#f08a80" stroke-width="0.7"/>
<circle cx="55.15" cy="245.34" r="0.9" fill="#ea4a3e" opacity="0.9"/>
<circle cx="58.06" cy="244.13" r="0.9" fill="#ea4a3e" opacity="0.9"/>
<circle cx="56.84" cy="248.98" r="0.9" fill="#ea4a3e" opacity="0.9"/>
<circle cx="54.42" cy="251.41" r="0.9" fill="#ea4a3e" opacity="0.9"/>
<line x1="47.849999999999994" y1="216.0" x2="56.25" y2="216.0" stroke="#a6a6a6" stroke-width="1.0"/>
<text x="52.05" y="212.9" font-size="7.8" fill="#1a1a1a" stroke="#1a1a1a" stroke-width="0.12" text-anchor="middle">n.s.</text>
<text x="53.55" y="313" font-size="7.45" fill="#1a1a1a" stroke="#1a1a1a" stroke-width="0.12" text-anchor="end" transform="rotate(-45 53.55 313)">Empty vector</text>
<rect x="64.90" y="249.70" width="6.10" height="50.30" fill="#8196d4"/>
<line x1="67.95" y1="246.31800970873786" x2="67.95" y2="250.7" stroke="#8196d4" stroke-width="0.7"/>
<circle cx="68.25" cy="242.18" r="0.9" fill="#4164c4" opacity="0.9"/>
<circle cx="66.55" cy="244.61" r="0.9" fill="#4164c4" opacity="0.9"/>
<circle cx="69.71" cy="251.41" r="0.9" fill="#4164c4" opacity="0.9"/>
<circle cx="67.77" cy="259.90" r="0.9" fill="#4164c4" opacity="0.9"/>
<rect x="73.10" y="278.37" width="6.10" height="21.63" fill="#f08a80"/>
<line x1="76.15" y1="275.7399723300971" x2="76.15" y2="279.371" stroke="#f08a80" stroke-width="0.7"/>
<circle cx="76.75" cy="272.52" r="0.9" fill="#ea4a3e" opacity="0.9"/>
<circle cx="75.78" cy="278.59" r="0.9" fill="#ea4a3e" opacity="0.9"/>
<circle cx="75.05" cy="282.48" r="0.9" fill="#ea4a3e" opacity="0.9"/>
<circle cx="77.48" cy="285.39" r="0.9" fill="#ea4a3e" opacity="0.9"/>
<line x1="67.85000000000001" y1="216.0" x2="76.25000000000001" y2="216.0" stroke="#a6a6a6" stroke-width="1.0"/>
<text x="73.75000000000001" y="214.0" font-size="6" fill="#1a1a1a" stroke="#1a1a1a" stroke-width="0.12" text-anchor="middle" font-weight="bold" letter-spacing="1.5">***</text>
<text x="73.55000000000001" y="313" font-size="7.45" fill="#1a1a1a" stroke="#1a1a1a" stroke-width="0.12" text-anchor="end" transform="rotate(-45 73.55000000000001 313)">TetO DDX1 WT</text>
<rect x="85.60" y="249.70" width="6.10" height="50.30" fill="#8196d4"/>
<line x1="88.64999999999999" y1="240.41995145631068" x2="88.64999999999999" y2="250.7" stroke="#8196d4" stroke-width="0.7"/>
<circle cx="89.61" cy="229.08" r="0.9" fill="#4164c4" opacity="0.9"/>
<circle cx="86.70" cy="239.27" r="0.9" fill="#4164c4" opacity="0.9"/>
<circle cx="86.70" cy="261.12" r="0.9" fill="#4164c4" opacity="0.9"/>
<circle cx="89.61" cy="267.18" r="0.9" fill="#4164c4" opacity="0.9"/>
<rect x="93.80" y="245.68" width="6.10" height="54.32" fill="#f08a80"/>
<line x1="96.85" y1="240.06354757281554" x2="96.85" y2="246.676" stroke="#f08a80" stroke-width="0.7"/>
<circle cx="96.89" cy="233.20" r="0.9" fill="#ea4a3e" opacity="0.9"/>
<circle cx="98.59" cy="238.54" r="0.9" fill="#ea4a3e" opacity="0.9"/>
<circle cx="95.68" cy="253.83" r="0.9" fill="#ea4a3e" opacity="0.9"/>
<circle cx="98.11" cy="253.83" r="0.9" fill="#ea4a3e" opacity="0.9"/>
<line x1="88.55" y1="216.0" x2="96.95" y2="216.0" stroke="#a6a6a6" stroke-width="1.0"/>
<text x="92.75" y="212.9" font-size="7.8" fill="#1a1a1a" stroke="#1a1a1a" stroke-width="0.12" text-anchor="middle">n.s.</text>
<text x="94.25" y="313" font-size="7.45" fill="#1a1a1a" stroke="#1a1a1a" stroke-width="0.12" text-anchor="end" transform="rotate(-45 94.25 313)">TetO DDX1 Δ269-295aa</text>
<rect x="108.60" y="249.70" width="6.10" height="50.30" fill="#8196d4"/>
<line x1="111.64999999999999" y1="243.36898058252427" x2="111.64999999999999" y2="250.7" stroke="#8196d4" stroke-width="0.7"/>
<circle cx="112.67" cy="235.63" r="0.9" fill="#4164c4" opacity="0.9"/>
<circle cx="112.18" cy="246.07" r="0.9" fill="#4164c4" opacity="0.9"/>
<circle cx="112.67" cy="251.41" r="0.9" fill="#4164c4" opacity="0.9"/>
<circle cx="110.97" cy="263.54" r="0.9" fill="#4164c4" opacity="0.9"/>
<rect x="116.80" y="251.21" width="6.10" height="48.79" fill="#f08a80"/>
<line x1="119.85" y1="241.209" x2="119.85" y2="252.209" stroke="#f08a80" stroke-width="0.7"/>
<circle cx="121.65" cy="226.65" r="0.9" fill="#ea4a3e" opacity="0.9"/>
<circle cx="118.74" cy="257.48" r="0.9" fill="#ea4a3e" opacity="0.9"/>
<circle cx="120.68" cy="269.61" r="0.9" fill="#ea4a3e" opacity="0.9"/>
<circle cx="119.95" cy="251.41" r="0.9" fill="#ea4a3e" opacity="0.9"/>
<line x1="111.55" y1="216.0" x2="119.95" y2="216.0" stroke="#a6a6a6" stroke-width="1.0"/>
<text x="115.75" y="212.9" font-size="7.8" fill="#1a1a1a" stroke="#1a1a1a" stroke-width="0.12" text-anchor="middle">n.s.</text>
<text x="117.25" y="313" font-size="7.45" fill="#1a1a1a" stroke="#1a1a1a" stroke-width="0.12" text-anchor="end" transform="rotate(-45 117.25 313)">Empty vector</text>
<rect x="129.00" y="249.70" width="6.10" height="50.30" fill="#8196d4"/>
<line x1="132.05" y1="245.8653970223325" x2="132.05" y2="250.7" stroke="#8196d4" stroke-width="0.7"/>
<circle cx="130.58" cy="241.18" r="0.9" fill="#4164c4" opacity="0.9"/>
<circle cx="133.06" cy="241.80" r="0.9" fill="#4164c4" opacity="0.9"/>
<circle cx="132.75" cy="250.48" r="0.9" fill="#4164c4" opacity="0.9"/>
<circle cx="131.20" cy="264.44" r="0.9" fill="#4164c4" opacity="0.9"/>
<rect x="137.20" y="276.86" width="6.10" height="23.14" fill="#f08a80"/>
<line x1="140.25" y1="274.862" x2="140.25" y2="277.862" stroke="#f08a80" stroke-width="0.7"/>
<circle cx="140.51" cy="273.13" r="0.9" fill="#ea4a3e" opacity="0.9"/>
<circle cx="139.58" cy="276.85" r="0.9" fill="#ea4a3e" opacity="0.9"/>
<circle cx="138.96" cy="279.33" r="0.9" fill="#ea4a3e" opacity="0.9"/>
<circle cx="141.13" cy="275.30" r="0.9" fill="#ea4a3e" opacity="0.9"/>
<line x1="131.95000000000002" y1="216.0" x2="140.35" y2="216.0" stroke="#a6a6a6" stroke-width="1.0"/>
<text x="137.85" y="214.0" font-size="6" fill="#1a1a1a" stroke="#1a1a1a" stroke-width="0.12" text-anchor="middle" font-weight="bold" letter-spacing="1.5">**</text>
<text x="137.65" y="313" font-size="7.45" fill="#1a1a1a" stroke="#1a1a1a" stroke-width="0.12" text-anchor="end" transform="rotate(-45 137.65 313)">TetO DDX1 WT</text>
<rect x="149.80" y="249.70" width="6.10" height="50.30" fill="#8196d4"/>
<line x1="152.85000000000002" y1="241.67805210918112" x2="152.85000000000002" y2="250.7" stroke="#8196d4" stroke-width="0.7"/>
<circle cx="150.43" cy="231.87" r="0.9" fill="#4164c4" opacity="0.9"/>
<circle cx="150.43" cy="236.53" r="0.9" fill="#4164c4" opacity="0.9"/>
<circle cx="152.92" cy="262.89" r="0.9" fill="#4164c4" opacity="0.9"/>
<circle cx="153.54" cy="265.99" r="0.9" fill="#4164c4" opacity="0.9"/>
<rect x="158.00" y="230.59" width="6.10" height="69.41" fill="#f08a80"/>
<line x1="161.05" y1="220.586" x2="161.05" y2="231.586" stroke="#f08a80" stroke-width="0.7"/>
<circle cx="161.29" cy="203.96" r="0.9" fill="#ea4a3e" opacity="0.9"/>
<circle cx="162.84" cy="224.12" r="0.9" fill="#ea4a3e" opacity="0.9"/>
<circle cx="160.05" cy="245.83" r="0.9" fill="#ea4a3e" opacity="0.9"/>
<circle cx="162.22" cy="246.76" r="0.9" fill="#ea4a3e" opacity="0.9"/>
<line x1="152.75000000000003" y1="199.4" x2="161.15" y2="199.4" stroke="#a6a6a6" stroke-width="1.0"/>
<text x="156.95000000000002" y="196.3" font-size="7.8" fill="#1a1a1a" stroke="#1a1a1a" stroke-width="0.12" text-anchor="middle">n.s.</text>
<text x="158.45000000000002" y="313" font-size="7.45" fill="#1a1a1a" stroke="#1a1a1a" stroke-width="0.12" text-anchor="end" transform="rotate(-45 158.45000000000002 313)">TetO DDX1 Δ269-295aa</text>
<rect x="172.60" y="249.70" width="6.10" height="50.30" fill="#8196d4"/>
<line x1="175.65" y1="245.8653970223325" x2="175.65" y2="250.7" stroke="#8196d4" stroke-width="0.7"/>
<circle cx="174.63" cy="241.18" r="0.9" fill="#4164c4" opacity="0.9"/>
<circle cx="176.18" cy="245.83" r="0.9" fill="#4164c4" opacity="0.9"/>
<circle cx="176.80" cy="244.28" r="0.9" fill="#4164c4" opacity="0.9"/>
<circle cx="174.63" cy="265.99" r="0.9" fill="#4164c4" opacity="0.9"/>
<rect x="180.80" y="252.22" width="6.10" height="47.78" fill="#f08a80"/>
<line x1="183.85" y1="246.55075620347395" x2="183.85" y2="253.215" stroke="#f08a80" stroke-width="0.7"/>
<circle cx="183.93" cy="239.63" r="0.9" fill="#ea4a3e" opacity="0.9"/>
<circle cx="185.48" cy="247.38" r="0.9" fill="#ea4a3e" opacity="0.9"/>
<circle cx="182.38" cy="265.99" r="0.9" fill="#ea4a3e" opacity="0.9"/>
<circle cx="183.00" cy="267.54" r="0.9" fill="#ea4a3e" opacity="0.9"/>
<line x1="175.55" y1="216.0" x2="183.95" y2="216.0" stroke="#a6a6a6" stroke-width="1.0"/>
<text x="179.75" y="212.9" font-size="7.8" fill="#1a1a1a" stroke="#1a1a1a" stroke-width="0.12" text-anchor="middle">n.s.</text>
<text x="181.25" y="313" font-size="7.45" fill="#1a1a1a" stroke="#1a1a1a" stroke-width="0.12" text-anchor="end" transform="rotate(-45 181.25 313)">Empty vector</text>
<rect x="193.20" y="249.70" width="6.10" height="50.30" fill="#8196d4"/>
<line x1="196.25" y1="245.8653970223325" x2="196.25" y2="250.7" stroke="#8196d4" stroke-width="0.7"/>
<circle cx="195.72" cy="241.18" r="0.9" fill="#4164c4" opacity="0.9"/>
<circle cx="197.27" cy="250.48" r="0.9" fill="#4164c4" opacity="0.9"/>
<circle cx="197.89" cy="252.03" r="0.9" fill="#4164c4" opacity="0.9"/>
<circle cx="195.72" cy="259.79" r="0.9" fill="#4164c4" opacity="0.9"/>
<rect x="201.40" y="280.38" width="6.10" height="19.62" fill="#f08a80"/>
<line x1="204.45" y1="276.6988633995037" x2="204.45" y2="281.383" stroke="#f08a80" stroke-width="0.7"/>
<circle cx="205.02" cy="272.20" r="0.9" fill="#ea4a3e" opacity="0.9"/>
<circle cx="204.40" cy="273.75" r="0.9" fill="#ea4a3e" opacity="0.9"/>
<circle cx="203.16" cy="283.05" r="0.9" fill="#ea4a3e" opacity="0.9"/>
<circle cx="205.02" cy="287.70" r="0.9" fill="#ea4a3e" opacity="0.9"/>
<line x1="196.15" y1="216.0" x2="204.54999999999998" y2="216.0" stroke="#a6a6a6" stroke-width="1.0"/>
<text x="202.04999999999998" y="214.0" font-size="6" fill="#1a1a1a" stroke="#1a1a1a" stroke-width="0.12" text-anchor="middle" font-weight="bold" letter-spacing="1.5">***</text>
<text x="201.85" y="313" font-size="7.45" fill="#1a1a1a" stroke="#1a1a1a" stroke-width="0.12" text-anchor="end" transform="rotate(-45 201.85 313)">TetO DDX1 WT</text>
<rect x="213.50" y="249.70" width="6.10" height="50.30" fill="#8196d4"/>
<line x1="216.55" y1="239.7" x2="216.55" y2="250.7" stroke="#8196d4" stroke-width="0.7"/>
<circle cx="217.12" cy="221.02" r="0.9" fill="#4164c4" opacity="0.9"/>
<circle cx="214.95" cy="252.03" r="0.9" fill="#4164c4" opacity="0.9"/>
<circle cx="216.50" cy="256.69" r="0.9" fill="#4164c4" opacity="0.9"/>
<circle cx="215.57" cy="263.82" r="0.9" fill="#4164c4" opacity="0.9"/>
<rect x="221.70" y="249.70" width="6.10" height="50.30" fill="#f08a80"/>
<line x1="224.75" y1="245.58624069478907" x2="224.75" y2="250.7" stroke="#f08a80" stroke-width="0.7"/>
<circle cx="224.26" cy="240.56" r="0.9" fill="#ea4a3e" opacity="0.9"/>
<circle cx="225.81" cy="242.73" r="0.9" fill="#ea4a3e" opacity="0.9"/>
<circle cx="226.74" cy="253.59" r="0.9" fill="#ea4a3e" opacity="0.9"/>
<circle cx="224.88" cy="256.69" r="0.9" fill="#ea4a3e" opacity="0.9"/>
<line x1="216.45000000000002" y1="216.0" x2="224.85" y2="216.0" stroke="#a6a6a6" stroke-width="1.0"/>
<text x="220.65" y="212.9" font-size="7.8" fill="#1a1a1a" stroke="#1a1a1a" stroke-width="0.12" text-anchor="middle">n.s.</text>
<text x="222.15" y="313" font-size="7.45" fill="#1a1a1a" stroke="#1a1a1a" stroke-width="0.12" text-anchor="end" transform="rotate(-45 222.15 313)">TetO DDX1 Δ269-295aa</text>
<line x1="52.05" y1="304.6" x2="92.75" y2="304.6" stroke="#c6c6c6" stroke-width="1.0"/>
<line x1="115.75" y1="304.6" x2="156.95000000000002" y2="304.6" stroke="#c6c6c6" stroke-width="1.0"/>
<line x1="179.75" y1="304.6" x2="220.65" y2="304.6" stroke="#c6c6c6" stroke-width="1.0"/>
<text x="230.8" y="292.4" font-size="6.3" fill="#4a6ec0" stroke="#4a6ec0" stroke-width="0.12">Dox<tspan font-size="60%" dy="-0.75em">−</tspan></text>
<text x="230.8" y="299.3" font-size="6.3" fill="#ea5a4e" stroke="#ea5a4e" stroke-width="0.12">Dox<tspan font-size="60%" dy="-0.75em">+</tspan></text>
<text x="292.3" y="185.5" font-size="6.6" fill="#4a6ec0" stroke="#4a6ec0" stroke-width="0.12">Dox<tspan font-size="60%" dy="-0.75em">−</tspan></text>
<text x="337.7" y="185.5" font-size="6.6" fill="#ea5a4e" stroke="#ea5a4e" stroke-width="0.12">Dox<tspan font-size="60%" dy="-0.75em">+</tspan></text>
<text x="273.0" y="210.4" font-size="6.6" fill="#1a1a1a" stroke="#1a1a1a" stroke-width="0.12" text-anchor="middle" transform="rotate(-90 273.0 210.4)">Empty vector</text>
<text x="273.8" y="255.5" font-size="6.5" fill="#1a1a1a" stroke="#1a1a1a" stroke-width="0.12" text-anchor="middle" transform="rotate(-90 273.8 255.5)">TetO DDX1 WT</text>
<text x="266.2" y="300" font-size="6.4" fill="#1a1a1a" stroke="#1a1a1a" stroke-width="0.12" text-anchor="middle" transform="rotate(-90 266.2 300)">TetO DDX1</text>
<text x="273.8" y="300" font-size="6.4" fill="#1a1a1a" stroke="#1a1a1a" stroke-width="0.12" text-anchor="middle" transform="rotate(-90 273.8 300)">Δ269-295aa</text>
<defs>
<filter id="em" x="0" y="0" width="100%" height="100%"><feTurbulence type="fractalNoise" baseFrequency="0.42" numOctaves="2" seed="4" result="n"/><feColorMatrix in="n" type="matrix" values="0 0 0 0 0  0 0 0 0 0  0 0 0 0 0  1.6 0 0 0 -0.62" result="a"/><feComposite in="a" in2="SourceGraphic" operator="in"/></filter>
<filter id="em2" x="0" y="0" width="100%" height="100%"><feTurbulence type="fractalNoise" baseFrequency="0.3" numOctaves="2" seed="11" result="n"/><feColorMatrix in="n" type="matrix" values="0 0 0 0 0  0 0 0 0 0  0 0 0 0 0  0 1.6 0 0 -0.62" result="a"/><feComposite in="a" in2="SourceGraphic" operator="in"/></filter>
<filter id="b2"><feGaussianBlur stdDeviation="0.7"/></filter>
<filter id="b1"><feGaussianBlur stdDeviation="0.45"/></filter>
</defs>
<svg x="277.3" y="189.2" width="42.6" height="42.6" viewBox="0 0 42.6 42.6">
<rect x="0.00" y="0.00" width="42.60" height="42.60" fill="#cecece"/>
<g filter="url(#b2)"><path d="M31 -2 Q34 10 44 14 L44 -2 Z" fill="#adadad"/><path d="M30 -2 Q33 11 44 15" stroke="#d2d2d2" stroke-width="1.2" fill="none"/><path d="M17 44 Q24 32 44 24 L44 44 Z" fill="#d4d4d4"/><path d="M16 44 Q23 31 44 23" stroke="#dcdcdc" stroke-width="1.4" fill="none"/><path d="M-2 -2 L14 -2 Q10 12 -2 16 Z" fill="#bcbcbc"/></g>
<rect x="0" y="0" width="42.6" height="42.6" fill="#303030" filter="url(#em)" opacity="0.22"/>
<rect x="0" y="0" width="42.6" height="42.6" fill="#f4f4f4" filter="url(#em2)" opacity="0.3"/>
<g filter="url(#b1)">
<ellipse cx="11.9" cy="13.3" rx="2.1" ry="1.2" fill="#626262" opacity="0.7" transform="rotate(0 11.9 13.3)"/>
<ellipse cx="16.4" cy="25.9" rx="2.1" ry="1.2" fill="#626262" opacity="0.7" transform="rotate(30 16.4 25.9)"/>
<ellipse cx="9.7" cy="30.3" rx="2.1" ry="1.2" fill="#626262" opacity="0.7" transform="rotate(0 9.7 30.3)"/>
<ellipse cx="33.4" cy="14.5" rx="2.1" ry="1.2" fill="#626262" opacity="0.7" transform="rotate(0 33.4 14.5)"/>
<ellipse cx="22.3" cy="5.6" rx="2.1" ry="1.2" fill="#626262" opacity="0.7" transform="rotate(40 22.3 5.6)"/>
<ellipse cx="20" cy="38.4" rx="2.1" ry="1.2" fill="#626262" opacity="0.7" transform="rotate(0 20 38.4)"/>
<ellipse cx="6" cy="20" rx="2.1" ry="1.2" fill="#626262" opacity="0.7" transform="rotate(0 6 20)"/>
<ellipse cx="27" cy="12" rx="2.1" ry="1.2" fill="#626262" opacity="0.7" transform="rotate(60 27 12)"/>
<ellipse cx="12" cy="36" rx="2.1" ry="1.2" fill="#626262" opacity="0.7" transform="rotate(0 12 36)"/>
<ellipse cx="36" cy="22" rx="2.1" ry="1.2" fill="#626262" opacity="0.7" transform="rotate(0 36 22)"/>
<ellipse cx="25.7" cy="8.9" rx="0.75" ry="0.75" fill="#101010" opacity="0.9" transform="rotate(0 25.7 8.9)"/>
<ellipse cx="21.2" cy="14.2" rx="0.75" ry="0.75" fill="#101010" opacity="0.9" transform="rotate(0 21.2 14.2)"/>
<ellipse cx="30.4" cy="18" rx="0.75" ry="0.75" fill="#101010" opacity="0.9" transform="rotate(0 30.4 18)"/>
<ellipse cx="32.4" cy="19.7" rx="0.75" ry="0.75" fill="#101010" opacity="0.9" transform="rotate(0 32.4 19.7)"/>
<ellipse cx="4.5" cy="2.5" rx="0.75" ry="0.75" fill="#101010" opacity="0.9" transform="rotate(0 4.5 2.5)"/>
<ellipse cx="6.5" cy="4.5" rx="0.75" ry="0.75" fill="#101010" opacity="0.9" transform="rotate(0 6.5 4.5)"/>
<ellipse cx="8" cy="7" rx="0.75" ry="0.75" fill="#101010" opacity="0.9" transform="rotate(0 8 7)"/>
<ellipse cx="5" cy="9" rx="0.75" ry="0.75" fill="#101010" opacity="0.9" transform="rotate(0 5 9)"/>
<ellipse cx="36.5" cy="20.5" rx="0.75" ry="0.75" fill="#101010" opacity="0.9" transform="rotate(0 36.5 20.5)"/>
</g>
<rect x="24.00" y="33.80" width="18.60" height="7.60" fill="#ffffff" opacity="0.5"/>
<rect x="20.30" y="41.35" width="22.30" height="1.25" fill="#0c0c0c"/>
<text x="33.5" y="40.6" font-size="6.9" fill="#1c1c1c" text-anchor="middle">5 µm</text>
</svg>
<svg x="323.9" y="189.2" width="42.6" height="42.6" viewBox="0 0 42.6 42.6">
<rect x="0.00" y="0.00" width="42.60" height="42.60" fill="#d4d4d4"/>
<g filter="url(#b2)"><path d="M5 -2 Q10 8 20 9 Q32 9 39 -2 Z" fill="#b0b0b0"/><path d="M4.5 -2 Q10 9 20 10 Q33 10 40 -2" stroke="#8e8e8e" stroke-width="0.9" fill="none"/><path d="M-2 14 Q5 28 8 44 L-2 44 Z" fill="#e0e0e0"/><path d="M28 44 Q34 34 44 30 L44 44 Z" fill="#dadada"/><path d="M8 44 Q10 30 3 14" stroke="#b0b0b0" stroke-width="1" fill="none"/></g>
<rect x="0" y="0" width="42.6" height="42.6" fill="#303030" filter="url(#em)" opacity="0.22"/>
<rect x="0" y="0" width="42.6" height="42.6" fill="#f4f4f4" filter="url(#em2)" opacity="0.3"/>
<g filter="url(#b1)">
<ellipse cx="15.6" cy="18.2" rx="2.1" ry="1.2" fill="#626262" opacity="0.7" transform="rotate(60 15.6 18.2)"/>
<ellipse cx="17.8" cy="25.7" rx="2.1" ry="1.2" fill="#626262" opacity="0.7" transform="rotate(70 17.8 25.7)"/>
<ellipse cx="16.3" cy="30.9" rx="2.1" ry="1.2" fill="#626262" opacity="0.7" transform="rotate(80 16.3 30.9)"/>
<ellipse cx="25.2" cy="19" rx="2.1" ry="1.2" fill="#626262" opacity="0.7" transform="rotate(45 25.2 19)"/>
<ellipse cx="28.9" cy="21.2" rx="2.1" ry="1.2" fill="#626262" opacity="0.7" transform="rotate(60 28.9 21.2)"/>
<ellipse cx="31.9" cy="25.7" rx="2.1" ry="1.2" fill="#626262" opacity="0.7" transform="rotate(70 31.9 25.7)"/>
<ellipse cx="35.6" cy="14.5" rx="2.1" ry="1.2" fill="#626262" opacity="0.7" transform="rotate(30 35.6 14.5)"/>
<ellipse cx="37.1" cy="5.6" rx="2.1" ry="1.2" fill="#626262" opacity="0.7" transform="rotate(0 37.1 5.6)"/>
<ellipse cx="24" cy="13" rx="2.1" ry="1.2" fill="#626262" opacity="0.7" transform="rotate(20 24 13)"/>
<ellipse cx="12" cy="13" rx="2.1" ry="1.2" fill="#626262" opacity="0.7" transform="rotate(50 12 13)"/>
<ellipse cx="22" cy="31" rx="2.1" ry="1.2" fill="#626262" opacity="0.7" transform="rotate(80 22 31)"/>
<ellipse cx="28.2" cy="31.6" rx="0.75" ry="0.75" fill="#101010" opacity="0.9" transform="rotate(0 28.2 31.6)"/>
<ellipse cx="30" cy="31.2" rx="0.75" ry="0.75" fill="#101010" opacity="0.9" transform="rotate(0 30 31.2)"/>
<ellipse cx="17.5" cy="24.5" rx="0.75" ry="0.75" fill="#101010" opacity="0.9" transform="rotate(0 17.5 24.5)"/>
<ellipse cx="26" cy="21" rx="0.75" ry="0.75" fill="#101010" opacity="0.9" transform="rotate(0 26 21)"/>
</g>
<rect x="24.00" y="33.80" width="18.60" height="7.60" fill="#ffffff" opacity="0.5"/>
<rect x="20.30" y="41.35" width="22.30" height="1.25" fill="#0c0c0c"/>
<text x="33.5" y="40.6" font-size="6.9" fill="#1c1c1c" text-anchor="middle">5 µm</text>
</svg>
<svg x="277.3" y="234.2" width="42.6" height="42.6" viewBox="0 0 42.6 42.6">
<rect x="0.00" y="0.00" width="42.60" height="42.60" fill="#9c9c9c"/>
<g filter="url(#b2)"><path d="M37 -2 L44 -2 L44 44 L38 44 Z" fill="#787878"/><path d="M26 -2 L33 -2 L31 44 L25 44 Z" fill="#b4b4b4"/><circle cx="5.2" cy="11.6" r="3.2" fill="#d6d6d6"/><circle cx="9.7" cy="6.4" r="3.6" fill="#dadada"/><circle cx="3.6" cy="4.6" r="2.6" fill="#d0d0d0"/><path d="M-2 22 L10 20 L8 44 L-2 44Z" fill="#adadad"/></g>
<rect x="0" y="0" width="42.6" height="42.6" fill="#303030" filter="url(#em)" opacity="0.22"/>
<rect x="0" y="0" width="42.6" height="42.6" fill="#f4f4f4" filter="url(#em2)" opacity="0.3"/>
<g filter="url(#b1)">
<ellipse cx="20.8" cy="17.5" rx="2.1" ry="1.2" fill="#626262" opacity="0.7" transform="rotate(85 20.8 17.5)"/>
<ellipse cx="17.8" cy="30.9" rx="2.1" ry="1.2" fill="#626262" opacity="0.7" transform="rotate(80 17.8 30.9)"/>
<ellipse cx="37.1" cy="26.4" rx="2.1" ry="1.2" fill="#626262" opacity="0.7" transform="rotate(88 37.1 26.4)"/>
<ellipse cx="21" cy="9" rx="2.1" ry="1.2" fill="#626262" opacity="0.7" transform="rotate(80 21 9)"/>
<ellipse cx="30" cy="30" rx="2.1" ry="1.2" fill="#626262" opacity="0.7" transform="rotate(85 30 30)"/>
<ellipse cx="13" cy="33" rx="2.1" ry="1.2" fill="#626262" opacity="0.7" transform="rotate(60 13 33)"/>
<ellipse cx="24" cy="38" rx="2.1" ry="1.2" fill="#626262" opacity="0.7" transform="rotate(20 24 38)"/>
<ellipse cx="13.1" cy="23.5" rx="0.75" ry="0.75" fill="#101010" opacity="0.9" transform="rotate(0 13.1 23.5)"/>
<ellipse cx="11.8" cy="24.3" rx="0.75" ry="0.75" fill="#101010" opacity="0.9" transform="rotate(0 11.8 24.3)"/>
<ellipse cx="35.6" cy="4.9" rx="0.75" ry="0.75" fill="#101010" opacity="0.9" transform="rotate(0 35.6 4.9)"/>
<ellipse cx="37.1" cy="8.6" rx="0.75" ry="0.75" fill="#101010" opacity="0.9" transform="rotate(0 37.1 8.6)"/>
<ellipse cx="7.5" cy="36.8" rx="0.75" ry="0.75" fill="#101010" opacity="0.9" transform="rotate(0 7.5 36.8)"/>
<ellipse cx="17.8" cy="3.4" rx="0.75" ry="0.75" fill="#101010" opacity="0.9" transform="rotate(0 17.8 3.4)"/>
<ellipse cx="31" cy="36" rx="0.75" ry="0.75" fill="#101010" opacity="0.9" transform="rotate(0 31 36)"/>
</g>
<rect x="24.00" y="33.80" width="18.60" height="7.60" fill="#ffffff" opacity="0.2"/>
<rect x="20.30" y="41.35" width="22.30" height="1.25" fill="#0c0c0c"/>
<text x="33.5" y="40.6" font-size="6.9" fill="#1c1c1c" text-anchor="middle">5 µm</text>
</svg>
<svg x="323.9" y="234.2" width="42.6" height="42.6" viewBox="0 0 42.6 42.6">
<rect x="0.00" y="0.00" width="42.60" height="42.60" fill="#dedede"/>
<g filter="url(#b2)"><path d="M-2 24 Q10 26 14 44 L-2 44Z" fill="#e6e6e6"/><path d="M-2 -2 L44 -2 L44 6 Q20 12 -2 6Z" fill="#c4c4c4"/><path d="M22 44 Q24 30 44 28 L44 44Z" fill="#dadada"/></g>
<rect x="0" y="0" width="42.6" height="42.6" fill="#303030" filter="url(#em)" opacity="0.22"/>
<rect x="0" y="0" width="42.6" height="42.6" fill="#f4f4f4" filter="url(#em2)" opacity="0.3"/>
<g filter="url(#b1)">
<ellipse cx="8.2" cy="5.6" rx="2.1" ry="1.2" fill="#626262" opacity="0.7" transform="rotate(40 8.2 5.6)"/>
<ellipse cx="14.8" cy="9.4" rx="2.1" ry="1.2" fill="#626262" opacity="0.7" transform="rotate(60 14.8 9.4)"/>
<ellipse cx="18.5" cy="11" rx="2.1" ry="1.2" fill="#626262" opacity="0.7" transform="rotate(70 18.5 11)"/>
<ellipse cx="31.1" cy="7.1" rx="2.1" ry="1.2" fill="#626262" opacity="0.7" transform="rotate(80 31.1 7.1)"/>
<ellipse cx="38.6" cy="13" rx="2.1" ry="1.2" fill="#626262" opacity="0.7" transform="rotate(85 38.6 13)"/>
<ellipse cx="23" cy="16" rx="2.1" ry="1.2" fill="#626262" opacity="0.7" transform="rotate(85 23 16)"/>
<ellipse cx="28.9" cy="17.5" rx="2.1" ry="1.2" fill="#626262" opacity="0.7" transform="rotate(85 28.9 17.5)"/>
<ellipse cx="34.1" cy="16" rx="2.1" ry="1.2" fill="#626262" opacity="0.7" transform="rotate(85 34.1 16)"/>
<ellipse cx="12" cy="16" rx="2.1" ry="1.2" fill="#626262" opacity="0.7" transform="rotate(70 12 16)"/>
<ellipse cx="20" cy="22" rx="2.1" ry="1.2" fill="#626262" opacity="0.7" transform="rotate(80 20 22)"/>
<ellipse cx="36" cy="24" rx="2.1" ry="1.2" fill="#626262" opacity="0.7" transform="rotate(85 36 24)"/>
<ellipse cx="7" cy="20" rx="2.1" ry="1.2" fill="#626262" opacity="0.7" transform="rotate(60 7 20)"/>
<ellipse cx="5.2" cy="2.7" rx="0.75" ry="0.75" fill="#101010" opacity="0.9" transform="rotate(0 5.2 2.7)"/>
<ellipse cx="14.8" cy="9.4" rx="0.75" ry="0.75" fill="#101010" opacity="0.9" transform="rotate(0 14.8 9.4)"/>
<ellipse cx="17.8" cy="21.2" rx="0.75" ry="0.75" fill="#101010" opacity="0.9" transform="rotate(0 17.8 21.2)"/>
<ellipse cx="30" cy="3" rx="0.75" ry="0.75" fill="#101010" opacity="0.9" transform="rotate(0 30 3)"/>
<ellipse cx="39" cy="8" rx="0.75" ry="0.75" fill="#101010" opacity="0.9" transform="rotate(0 39 8)"/>
</g>
<path d="M11.8 25 L15.4 26.6 L12.6 28.8 Z" fill="#e84a68"/><path d="M14 28 L19 33" stroke="#9fd0c8" stroke-width="0.8" opacity="0.7"/>
<rect x="24.00" y="33.80" width="18.60" height="7.60" fill="#ffffff" opacity="0.5"/>
<rect x="20.30" y="41.35" width="22.30" height="1.25" fill="#0c0c0c"/>
<text x="33.5" y="40.6" font-size="6.9" fill="#1c1c1c" text-anchor="middle">5 µm</text>
</svg>
<svg x="277.3" y="278.9" width="42.6" height="42.6" viewBox="0 0 42.6 42.6">
<rect x="0.00" y="0.00" width="42.60" height="42.60" fill="#a8a8a8"/>
<g filter="url(#b2)"><path d="M-2 -2 L30 -2 Q30 14 20 22 Q8 26 -2 24 Z" fill="#969696"/><ellipse cx="12.8" cy="5.8" rx="9.4" ry="5.4" fill="#565656"/><ellipse cx="35.5" cy="16.6" rx="3.4" ry="5.6" fill="#ececec"/><path d="M-2 36 Q8 36 14.5 44 L-2 44Z" fill="#d2d2d2"/><path d="M-2 24 Q10 26 20 22 Q30 14 30 -2" stroke="#6e6e6e" stroke-width="0.8" fill="none"/><path d="M20 22 Q34 30 44 30" stroke="#767676" stroke-width="0.8" fill="none"/></g>
<rect x="0" y="0" width="42.6" height="42.6" fill="#303030" filter="url(#em)" opacity="0.22"/>
<rect x="0" y="0" width="42.6" height="42.6" fill="#f4f4f4" filter="url(#em2)" opacity="0.3"/>
<g filter="url(#b1)">
<ellipse cx="10" cy="18" rx="2.1" ry="1.2" fill="#626262" opacity="0.7" transform="rotate(0 10 18)"/>
<ellipse cx="24" cy="28" rx="2.1" ry="1.2" fill="#626262" opacity="0.7" transform="rotate(30 24 28)"/>
<ellipse cx="30" cy="34" rx="2.1" ry="1.2" fill="#626262" opacity="0.7" transform="rotate(0 30 34)"/>
<ellipse cx="16" cy="32" rx="2.1" ry="1.2" fill="#626262" opacity="0.7" transform="rotate(50 16 32)"/>
<ellipse cx="36" cy="26" rx="2.1" ry="1.2" fill="#626262" opacity="0.7" transform="rotate(0 36 26)"/>
<ellipse cx="6" cy="28" rx="2.1" ry="1.2" fill="#626262" opacity="0.7" transform="rotate(0 6 28)"/>
<ellipse cx="26" cy="8" rx="2.1" ry="1.2" fill="#626262" opacity="0.7" transform="rotate(0 26 8)"/>
<ellipse cx="28" cy="30" rx="0.75" ry="0.75" fill="#101010" opacity="0.9" transform="rotate(0 28 30)"/>
<ellipse cx="22" cy="34" rx="0.75" ry="0.75" fill="#101010" opacity="0.9" transform="rotate(0 22 34)"/>
<ellipse cx="12" cy="29" rx="0.75" ry="0.75" fill="#101010" opacity="0.9" transform="rotate(0 12 29)"/>
</g>
<rect x="24.00" y="33.80" width="18.60" height="7.60" fill="#ffffff" opacity="0.08"/>
<rect x="20.30" y="41.35" width="22.30" height="1.25" fill="#0c0c0c"/>
<text x="33.5" y="40.6" font-size="6.9" fill="#1c1c1c" text-anchor="middle">5 µm</text>
</svg>
<svg x="323.9" y="278.9" width="42.6" height="42.6" viewBox="0 0 42.6 42.6">
<rect x="0.00" y="0.00" width="42.60" height="42.60" fill="#989898"/>
<g filter="url(#b2)"><path d="M-2 23.5 L5 24.5 Q9.5 26 11 31 Q13 38 16.5 44 L-2 44 Z" fill="#d8d8d8"/><path d="M24 44 Q26 32 44 30 L44 44Z" fill="#b6b6b6"/><ellipse cx="13.6" cy="30" rx="2.4" ry="1.5" fill="#ffffff" transform="rotate(40 13.6 30)"/><circle cx="34.7" cy="13.5" r="1.5" fill="#efefef"/><circle cx="28.9" cy="8.2" r="1.1" fill="#e6e6e6"/><path d="M-2 23.5 L5 24.5 Q9.5 26 11 31 Q13 38 16.5 44" stroke="#6c6c6c" stroke-width="1.1" fill="none"/></g>
<rect x="0" y="0" width="42.6" height="42.6" fill="#303030" filter="url(#em)" opacity="0.22"/>
<rect x="0" y="0" width="42.6" height="42.6" fill="#f4f4f4" filter="url(#em2)" opacity="0.3"/>
<g filter="url(#b1)">
<ellipse cx="8" cy="6" rx="2.1" ry="1.2" fill="#626262" opacity="0.7" transform="rotate(40 8 6)"/>
<ellipse cx="14" cy="10" rx="2.1" ry="1.2" fill="#626262" opacity="0.7" transform="rotate(30 14 10)"/>
<ellipse cx="20" cy="5" rx="2.1" ry="1.2" fill="#626262" opacity="0.7" transform="rotate(60 20 5)"/>
<ellipse cx="26" cy="16" rx="2.1" ry="1.2" fill="#626262" opacity="0.7" transform="rotate(50 26 16)"/>
<ellipse cx="32" cy="22" rx="2.1" ry="1.2" fill="#626262" opacity="0.7" transform="rotate(40 32 22)"/>
<ellipse cx="16" cy="18" rx="2.1" ry="1.2" fill="#626262" opacity="0.7" transform="rotate(60 16 18)"/>
<ellipse cx="38" cy="8" rx="2.1" ry="1.2" fill="#626262" opacity="0.7" transform="rotate(30 38 8)"/>
<ellipse cx="22" cy="24" rx="2.1" ry="1.2" fill="#626262" opacity="0.7" transform="rotate(20 22 24)"/>
<ellipse cx="10" cy="14" rx="2.1" ry="1.2" fill="#626262" opacity="0.7" transform="rotate(45 10 14)"/>
<ellipse cx="30" cy="4" rx="2.1" ry="1.2" fill="#626262" opacity="0.7" transform="rotate(30 30 4)"/>
<ellipse cx="36" cy="26" rx="2.1" ry="1.2" fill="#626262" opacity="0.7" transform="rotate(60 36 26)"/>
<ellipse cx="17.2" cy="31.2" rx="0.75" ry="0.75" fill="#101010" opacity="0.9" transform="rotate(0 17.2 31.2)"/>
<ellipse cx="29.2" cy="26.9" rx="0.75" ry="0.75" fill="#101010" opacity="0.9" transform="rotate(0 29.2 26.9)"/>
<ellipse cx="23.2" cy="12.2" rx="0.75" ry="0.75" fill="#101010" opacity="0.9" transform="rotate(0 23.2 12.2)"/>
<ellipse cx="37" cy="18.2" rx="0.75" ry="0.75" fill="#101010" opacity="0.9" transform="rotate(0 37 18.2)"/>
<ellipse cx="19" cy="29.5" rx="0.75" ry="0.75" fill="#101010" opacity="0.9" transform="rotate(0 19 29.5)"/>
</g>
<rect x="24.00" y="33.80" width="18.60" height="7.60" fill="#ffffff" opacity="0.5"/>
<rect x="20.30" y="41.35" width="22.30" height="1.25" fill="#0c0c0c"/>
<text x="33.5" y="40.6" font-size="6.9" fill="#1c1c1c" text-anchor="middle">5 µm</text>
</svg>
<text x="398.2" y="241.2" font-size="7.7" fill="#1a1a1a" stroke="#1a1a1a" stroke-width="0.12" text-anchor="middle" transform="rotate(-90 398.2 241.2)">Length of mitochondria (µm)</text>
<text x="410" y="281.6" font-size="8" fill="#1a1a1a" stroke="#1a1a1a" stroke-width="0.12" text-anchor="end">0</text>
<text x="410" y="266.65000000000003" font-size="8" fill="#1a1a1a" stroke="#1a1a1a" stroke-width="0.12" text-anchor="end">1</text>
<text x="410" y="251.70000000000002" font-size="8" fill="#1a1a1a" stroke="#1a1a1a" stroke-width="0.12" text-anchor="end">2</text>
<text x="410" y="236.75000000000003" font-size="8" fill="#1a1a1a" stroke="#1a1a1a" stroke-width="0.12" text-anchor="end">3</text>
<text x="410" y="221.8" font-size="8" fill="#1a1a1a" stroke="#1a1a1a" stroke-width="0.12" text-anchor="end">4</text>
<text x="410" y="206.85000000000002" font-size="8" fill="#1a1a1a" stroke="#1a1a1a" stroke-width="0.12" text-anchor="end">5</text>
<line x1="414.1" y1="204.05" x2="414.1" y2="278.8" stroke="#dcdcdc" stroke-width="0.6"/>
<line x1="412.9" y1="278.8" x2="414.1" y2="278.8" stroke="#d0d0d0" stroke-width="0.5"/>
<line x1="412.9" y1="263.85" x2="414.1" y2="263.85" stroke="#d0d0d0" stroke-width="0.5"/>
<line x1="412.9" y1="248.9" x2="414.1" y2="248.9" stroke="#d0d0d0" stroke-width="0.5"/>
<line x1="412.9" y1="233.95000000000002" x2="414.1" y2="233.95000000000002" stroke="#d0d0d0" stroke-width="0.5"/>
<line x1="412.9" y1="219.0" x2="414.1" y2="219.0" stroke="#d0d0d0" stroke-width="0.5"/>
<line x1="412.9" y1="204.05" x2="414.1" y2="204.05" stroke="#d0d0d0" stroke-width="0.5"/>
<circle cx="422.48" cy="267.91" r="0.6" fill="#4164c4" opacity="0.5"/>
<circle cx="420.82" cy="270.22" r="0.6" fill="#4164c4" opacity="0.5"/>
<circle cx="418.92" cy="270.04" r="0.6" fill="#4164c4" opacity="0.5"/>
<circle cx="419.23" cy="267.42" r="0.6" fill="#4164c4" opacity="0.5"/>
<circle cx="419.42" cy="271.96" r="0.6" fill="#4164c4" opacity="0.5"/>
<circle cx="424.20" cy="270.76" r="0.6" fill="#4164c4" opacity="0.5"/>
<circle cx="424.36" cy="269.38" r="0.6" fill="#4164c4" opacity="0.5"/>
<circle cx="420.38" cy="272.15" r="0.6" fill="#4164c4" opacity="0.5"/>
<circle cx="420.49" cy="267.71" r="0.6" fill="#4164c4" opacity="0.5"/>
<circle cx="420.86" cy="266.38" r="0.6" fill="#4164c4" opacity="0.5"/>
<circle cx="419.05" cy="267.38" r="0.6" fill="#4164c4" opacity="0.5"/>
<circle cx="421.18" cy="271.08" r="0.6" fill="#4164c4" opacity="0.5"/>
<circle cx="421.33" cy="270.51" r="0.6" fill="#4164c4" opacity="0.5"/>
<circle cx="422.75" cy="271.77" r="0.6" fill="#4164c4" opacity="0.5"/>
<circle cx="421.75" cy="270.45" r="0.6" fill="#4164c4" opacity="0.5"/>
<circle cx="420.37" cy="262.22" r="0.6" fill="#4164c4" opacity="0.5"/>
<circle cx="419.58" cy="265.01" r="0.6" fill="#4164c4" opacity="0.5"/>
<circle cx="422.58" cy="267.24" r="0.6" fill="#4164c4" opacity="0.5"/>
<circle cx="423.78" cy="265.43" r="0.6" fill="#4164c4" opacity="0.5"/>
<circle cx="422.15" cy="271.17" r="0.6" fill="#4164c4" opacity="0.5"/>
<circle cx="423.57" cy="269.74" r="0.6" fill="#4164c4" opacity="0.5"/>
<circle cx="422.77" cy="271.01" r="0.6" fill="#4164c4" opacity="0.5"/>
<circle cx="420.94" cy="270.34" r="0.6" fill="#4164c4" opacity="0.5"/>
<circle cx="419.38" cy="270.66" r="0.6" fill="#4164c4" opacity="0.5"/>
<circle cx="419.45" cy="271.61" r="0.6" fill="#4164c4" opacity="0.5"/>
<circle cx="423.75" cy="269.35" r="0.6" fill="#4164c4" opacity="0.5"/>
<circle cx="421.89" cy="269.70" r="0.6" fill="#4164c4" opacity="0.5"/>
<circle cx="421.11" cy="277.60" r="0.6" fill="#4164c4" opacity="0.5"/>
<circle cx="424.25" cy="272.31" r="0.6" fill="#4164c4" opacity="0.5"/>
<circle cx="420.05" cy="268.06" r="0.6" fill="#4164c4" opacity="0.5"/>
<circle cx="422.12" cy="269.91" r="0.6" fill="#4164c4" opacity="0.5"/>
<circle cx="421.13" cy="267.02" r="0.6" fill="#4164c4" opacity="0.5"/>
<circle cx="424.23" cy="270.40" r="0.6" fill="#4164c4" opacity="0.5"/>
<circle cx="419.01" cy="261.03" r="0.6" fill="#4164c4" opacity="0.5"/>
<circle cx="423.77" cy="269.12" r="0.6" fill="#4164c4" opacity="0.5"/>
<circle cx="422.38" cy="272.65" r="0.6" fill="#4164c4" opacity="0.5"/>
<circle cx="419.91" cy="267.40" r="0.6" fill="#4164c4" opacity="0.5"/>
<circle cx="419.00" cy="269.04" r="0.6" fill="#4164c4" opacity="0.5"/>
<circle cx="419.29" cy="267.91" r="0.6" fill="#4164c4" opacity="0.5"/>
<circle cx="423.77" cy="267.15" r="0.6" fill="#4164c4" opacity="0.5"/>
<circle cx="420.81" cy="267.05" r="0.6" fill="#4164c4" opacity="0.5"/>
<circle cx="424.46" cy="272.09" r="0.6" fill="#4164c4" opacity="0.5"/>
<line x1="421.6" y1="260.85" x2="421.6" y2="268" stroke="#5a7cc4" stroke-width="0.5"/>
<line x1="421.6" y1="272" x2="421.6" y2="277" stroke="#5a7cc4" stroke-width="0.5"/>
<rect x="418.70" y="268.00" width="5.80" height="4.00" fill="#5a7cc4" fill-opacity="0.6" stroke="#5a7cc4" stroke-width="0.5"/>
<line x1="418.70000000000005" y1="270.3" x2="424.5" y2="270.3" stroke="#4164c4" stroke-width="0.7"/>
<circle cx="426.00" cy="270.72" r="0.6" fill="#ea4a3e" opacity="0.5"/>
<circle cx="427.04" cy="269.54" r="0.6" fill="#ea4a3e" opacity="0.5"/>
<circle cx="428.56" cy="277.60" r="0.6" fill="#ea4a3e" opacity="0.5"/>
<circle cx="425.66" cy="271.21" r="0.6" fill="#ea4a3e" opacity="0.5"/>
<circle cx="430.51" cy="274.82" r="0.6" fill="#ea4a3e" opacity="0.5"/>
<circle cx="429.98" cy="272.46" r="0.6" fill="#ea4a3e" opacity="0.5"/>
<circle cx="427.41" cy="273.17" r="0.6" fill="#ea4a3e" opacity="0.5"/>
<circle cx="431.21" cy="273.44" r="0.6" fill="#ea4a3e" opacity="0.5"/>
<circle cx="430.25" cy="266.62" r="0.6" fill="#ea4a3e" opacity="0.5"/>
<circle cx="425.67" cy="269.19" r="0.6" fill="#ea4a3e" opacity="0.5"/>
<circle cx="427.00" cy="269.02" r="0.6" fill="#ea4a3e" opacity="0.5"/>
<circle cx="428.09" cy="259.59" r="0.6" fill="#ea4a3e" opacity="0.5"/>
<circle cx="426.78" cy="251.00" r="0.6" fill="#ea4a3e" opacity="0.5"/>
<circle cx="426.69" cy="268.33" r="0.6" fill="#ea4a3e" opacity="0.5"/>
<circle cx="430.37" cy="269.09" r="0.6" fill="#ea4a3e" opacity="0.5"/>
<circle cx="430.14" cy="272.12" r="0.6" fill="#ea4a3e" opacity="0.5"/>
<circle cx="430.78" cy="272.18" r="0.6" fill="#ea4a3e" opacity="0.5"/>
<circle cx="430.08" cy="275.40" r="0.6" fill="#ea4a3e" opacity="0.5"/>
<circle cx="431.14" cy="273.35" r="0.6" fill="#ea4a3e" opacity="0.5"/>
<circle cx="430.99" cy="270.03" r="0.6" fill="#ea4a3e" opacity="0.5"/>
<circle cx="430.75" cy="272.67" r="0.6" fill="#ea4a3e" opacity="0.5"/>
<circle cx="429.31" cy="260.14" r="0.6" fill="#ea4a3e" opacity="0.5"/>
<circle cx="426.26" cy="271.25" r="0.6" fill="#ea4a3e" opacity="0.5"/>
<circle cx="429.27" cy="274.76" r="0.6" fill="#ea4a3e" opacity="0.5"/>
<circle cx="428.02" cy="274.45" r="0.6" fill="#ea4a3e" opacity="0.5"/>
<circle cx="426.72" cy="256.83" r="0.6" fill="#ea4a3e" opacity="0.5"/>
<circle cx="426.90" cy="269.13" r="0.6" fill="#ea4a3e" opacity="0.5"/>
<circle cx="427.93" cy="268.85" r="0.6" fill="#ea4a3e" opacity="0.5"/>
<circle cx="427.55" cy="274.25" r="0.6" fill="#ea4a3e" opacity="0.5"/>
<circle cx="430.74" cy="271.54" r="0.6" fill="#ea4a3e" opacity="0.5"/>
<circle cx="428.41" cy="274.32" r="0.6" fill="#ea4a3e" opacity="0.5"/>
<circle cx="425.61" cy="271.05" r="0.6" fill="#ea4a3e" opacity="0.5"/>
<circle cx="425.52" cy="268.22" r="0.6" fill="#ea4a3e" opacity="0.5"/>
<circle cx="428.73" cy="265.85" r="0.6" fill="#ea4a3e" opacity="0.5"/>
<circle cx="428.72" cy="271.00" r="0.6" fill="#ea4a3e" opacity="0.5"/>
<circle cx="427.11" cy="273.65" r="0.6" fill="#ea4a3e" opacity="0.5"/>
<circle cx="428.76" cy="268.22" r="0.6" fill="#ea4a3e" opacity="0.5"/>
<circle cx="428.43" cy="262.15" r="0.6" fill="#ea4a3e" opacity="0.5"/>
<circle cx="428.12" cy="272.45" r="0.6" fill="#ea4a3e" opacity="0.5"/>
<circle cx="430.96" cy="270.67" r="0.6" fill="#ea4a3e" opacity="0.5"/>
<circle cx="430.96" cy="265.52" r="0.6" fill="#ea4a3e" opacity="0.5"/>
<circle cx="430.97" cy="271.34" r="0.6" fill="#ea4a3e" opacity="0.5"/>
<line x1="428.4" y1="257.495" x2="428.4" y2="267.7" stroke="#ee6a60" stroke-width="0.5"/>
<line x1="428.4" y1="274" x2="428.4" y2="277.5" stroke="#ee6a60" stroke-width="0.5"/>
<rect x="425.50" y="267.70" width="5.80" height="6.30" fill="#ee6a60" fill-opacity="0.6" stroke="#ee6a60" stroke-width="0.5"/>
<line x1="425.5" y1="271.15000000000003" x2="431.29999999999995" y2="271.15000000000003" stroke="#ea4a3e" stroke-width="0.7"/>
<line x1="421.6" y1="200.4" x2="428.4" y2="200.4" stroke="#a6a6a6" stroke-width="1.0"/>
<text x="425.0" y="198.3" font-size="7.8" fill="#1a1a1a" stroke="#1a1a1a" stroke-width="0.12" text-anchor="middle">n.s.</text>
<text x="427.0" y="288.5" font-size="7.45" fill="#1a1a1a" stroke="#1a1a1a" stroke-width="0.12" text-anchor="end" transform="rotate(-45 427.0 288.5)">Empty vector</text>
<circle cx="457.52" cy="267.64" r="0.6" fill="#4164c4" opacity="0.5"/>
<circle cx="460.98" cy="266.53" r="0.6" fill="#4164c4" opacity="0.5"/>
<circle cx="458.00" cy="267.30" r="0.6" fill="#4164c4" opacity="0.5"/>
<circle cx="462.71" cy="267.85" r="0.6" fill="#4164c4" opacity="0.5"/>
<circle cx="459.41" cy="272.95" r="0.6" fill="#4164c4" opacity="0.5"/>
<circle cx="461.93" cy="273.23" r="0.6" fill="#4164c4" opacity="0.5"/>
<circle cx="460.09" cy="269.15" r="0.6" fill="#4164c4" opacity="0.5"/>
<circle cx="458.95" cy="267.43" r="0.6" fill="#4164c4" opacity="0.5"/>
<circle cx="457.20" cy="272.91" r="0.6" fill="#4164c4" opacity="0.5"/>
<circle cx="460.07" cy="270.55" r="0.6" fill="#4164c4" opacity="0.5"/>
<circle cx="461.67" cy="273.19" r="0.6" fill="#4164c4" opacity="0.5"/>
<circle cx="461.62" cy="269.74" r="0.6" fill="#4164c4" opacity="0.5"/>
<circle cx="459.55" cy="266.95" r="0.6" fill="#4164c4" opacity="0.5"/>
<circle cx="458.60" cy="267.93" r="0.6" fill="#4164c4" opacity="0.5"/>
<circle cx="460.41" cy="272.71" r="0.6" fill="#4164c4" opacity="0.5"/>
<circle cx="459.57" cy="267.88" r="0.6" fill="#4164c4" opacity="0.5"/>
<circle cx="460.78" cy="272.85" r="0.6" fill="#4164c4" opacity="0.5"/>
<circle cx="462.10" cy="270.39" r="0.6" fill="#4164c4" opacity="0.5"/>
<circle cx="460.31" cy="268.48" r="0.6" fill="#4164c4" opacity="0.5"/>
<circle cx="458.48" cy="272.35" r="0.6" fill="#4164c4" opacity="0.5"/>
<circle cx="457.39" cy="267.18" r="0.6" fill="#4164c4" opacity="0.5"/>
<circle cx="458.87" cy="268.28" r="0.6" fill="#4164c4" opacity="0.5"/>
<circle cx="459.11" cy="271.66" r="0.6" fill="#4164c4" opacity="0.5"/>
<circle cx="457.19" cy="267.83" r="0.6" fill="#4164c4" opacity="0.5"/>
<circle cx="458.20" cy="269.65" r="0.6" fill="#4164c4" opacity="0.5"/>
<circle cx="457.72" cy="272.82" r="0.6" fill="#4164c4" opacity="0.5"/>
<circle cx="459.38" cy="263.18" r="0.6" fill="#4164c4" opacity="0.5"/>
<circle cx="462.80" cy="271.02" r="0.6" fill="#4164c4" opacity="0.5"/>
<circle cx="461.20" cy="272.08" r="0.6" fill="#4164c4" opacity="0.5"/>
<circle cx="459.12" cy="266.71" r="0.6" fill="#4164c4" opacity="0.5"/>
<circle cx="457.51" cy="266.95" r="0.6" fill="#4164c4" opacity="0.5"/>
<circle cx="461.98" cy="271.57" r="0.6" fill="#4164c4" opacity="0.5"/>
<circle cx="458.80" cy="271.94" r="0.6" fill="#4164c4" opacity="0.5"/>
<circle cx="459.69" cy="267.15" r="0.6" fill="#4164c4" opacity="0.5"/>
<circle cx="462.74" cy="273.02" r="0.6" fill="#4164c4" opacity="0.5"/>
<circle cx="462.70" cy="267.78" r="0.6" fill="#4164c4" opacity="0.5"/>
<circle cx="457.11" cy="268.60" r="0.6" fill="#4164c4" opacity="0.5"/>
<circle cx="460.02" cy="269.46" r="0.6" fill="#4164c4" opacity="0.5"/>
<circle cx="457.13" cy="269.68" r="0.6" fill="#4164c4" opacity="0.5"/>
<circle cx="459.42" cy="266.66" r="0.6" fill="#4164c4" opacity="0.5"/>
<circle cx="458.86" cy="266.16" r="0.6" fill="#4164c4" opacity="0.5"/>
<circle cx="460.17" cy="270.27" r="0.6" fill="#4164c4" opacity="0.5"/>
<line x1="460" y1="260.825" x2="460" y2="267" stroke="#5a7cc4" stroke-width="0.5"/>
<line x1="460" y1="272.3" x2="460" y2="275" stroke="#5a7cc4" stroke-width="0.5"/>
<rect x="457.10" y="267.00" width="5.80" height="5.30" fill="#5a7cc4" fill-opacity="0.6" stroke="#5a7cc4" stroke-width="0.5"/>
<line x1="457.1" y1="269.95" x2="462.9" y2="269.95" stroke="#4164c4" stroke-width="0.7"/>
<circle cx="467.16" cy="251.36" r="0.6" fill="#ea4a3e" opacity="0.5"/>
<circle cx="465.77" cy="266.80" r="0.6" fill="#ea4a3e" opacity="0.5"/>
<circle cx="465.15" cy="246.57" r="0.6" fill="#ea4a3e" opacity="0.5"/>
<circle cx="469.61" cy="249.02" r="0.6" fill="#ea4a3e" opacity="0.5"/>
<circle cx="467.83" cy="260.81" r="0.6" fill="#ea4a3e" opacity="0.5"/>
<circle cx="469.69" cy="251.24" r="0.6" fill="#ea4a3e" opacity="0.5"/>
<circle cx="468.86" cy="265.61" r="0.6" fill="#ea4a3e" opacity="0.5"/>
<circle cx="466.99" cy="262.30" r="0.6" fill="#ea4a3e" opacity="0.5"/>
<circle cx="468.14" cy="264.87" r="0.6" fill="#ea4a3e" opacity="0.5"/>
<circle cx="464.92" cy="249.37" r="0.6" fill="#ea4a3e" opacity="0.5"/>
<circle cx="467.82" cy="249.20" r="0.6" fill="#ea4a3e" opacity="0.5"/>
<circle cx="465.28" cy="262.57" r="0.6" fill="#ea4a3e" opacity="0.5"/>
<circle cx="469.13" cy="263.33" r="0.6" fill="#ea4a3e" opacity="0.5"/>
<circle cx="470.56" cy="263.62" r="0.6" fill="#ea4a3e" opacity="0.5"/>
<circle cx="467.68" cy="258.97" r="0.6" fill="#ea4a3e" opacity="0.5"/>
<circle cx="465.35" cy="258.95" r="0.6" fill="#ea4a3e" opacity="0.5"/>
<circle cx="469.21" cy="257.30" r="0.6" fill="#ea4a3e" opacity="0.5"/>
<circle cx="464.97" cy="261.38" r="0.6" fill="#ea4a3e" opacity="0.5"/>
<circle cx="468.80" cy="257.49" r="0.6" fill="#ea4a3e" opacity="0.5"/>
<circle cx="466.59" cy="246.04" r="0.6" fill="#ea4a3e" opacity="0.5"/>
<circle cx="467.60" cy="260.04" r="0.6" fill="#ea4a3e" opacity="0.5"/>
<circle cx="466.06" cy="265.62" r="0.6" fill="#ea4a3e" opacity="0.5"/>
<circle cx="469.66" cy="258.68" r="0.6" fill="#ea4a3e" opacity="0.5"/>
<circle cx="466.46" cy="259.73" r="0.6" fill="#ea4a3e" opacity="0.5"/>
<circle cx="466.12" cy="266.29" r="0.6" fill="#ea4a3e" opacity="0.5"/>
<circle cx="467.94" cy="255.84" r="0.6" fill="#ea4a3e" opacity="0.5"/>
<circle cx="470.04" cy="247.42" r="0.6" fill="#ea4a3e" opacity="0.5"/>
<circle cx="465.04" cy="267.15" r="0.6" fill="#ea4a3e" opacity="0.5"/>
<circle cx="467.51" cy="260.39" r="0.6" fill="#ea4a3e" opacity="0.5"/>
<circle cx="466.89" cy="255.83" r="0.6" fill="#ea4a3e" opacity="0.5"/>
<circle cx="464.91" cy="264.92" r="0.6" fill="#ea4a3e" opacity="0.5"/>
<circle cx="465.60" cy="253.24" r="0.6" fill="#ea4a3e" opacity="0.5"/>
<circle cx="467.06" cy="275.59" r="0.6" fill="#ea4a3e" opacity="0.5"/>
<circle cx="468.32" cy="266.98" r="0.6" fill="#ea4a3e" opacity="0.5"/>
<circle cx="466.50" cy="259.56" r="0.6" fill="#ea4a3e" opacity="0.5"/>
<circle cx="469.74" cy="255.32" r="0.6" fill="#ea4a3e" opacity="0.5"/>
<circle cx="466.35" cy="266.16" r="0.6" fill="#ea4a3e" opacity="0.5"/>
<circle cx="466.00" cy="260.64" r="0.6" fill="#ea4a3e" opacity="0.5"/>
<circle cx="470.03" cy="266.43" r="0.6" fill="#ea4a3e" opacity="0.5"/>
<circle cx="468.09" cy="244.70" r="0.6" fill="#ea4a3e" opacity="0.5"/>
<circle cx="469.27" cy="261.37" r="0.6" fill="#ea4a3e" opacity="0.5"/>
<circle cx="465.64" cy="276.19" r="0.6" fill="#ea4a3e" opacity="0.5"/>
<circle cx="466.63" cy="258.47" r="0.6" fill="#ea4a3e" opacity="0.5"/>
<circle cx="466.41" cy="253.23" r="0.6" fill="#ea4a3e" opacity="0.5"/>
<circle cx="465.87" cy="256.29" r="0.6" fill="#ea4a3e" opacity="0.5"/>
<circle cx="470.15" cy="256.70" r="0.6" fill="#ea4a3e" opacity="0.5"/>
<circle cx="470.16" cy="256.86" r="0.6" fill="#ea4a3e" opacity="0.5"/>
<circle cx="465.71" cy="247.77" r="0.6" fill="#ea4a3e" opacity="0.5"/>
<circle cx="466.88" cy="255.18" r="0.6" fill="#ea4a3e" opacity="0.5"/>
<circle cx="466.40" cy="257.11" r="0.6" fill="#ea4a3e" opacity="0.5"/>
<circle cx="469.25" cy="265.53" r="0.6" fill="#ea4a3e" opacity="0.5"/>
<circle cx="467.94" cy="259.38" r="0.6" fill="#ea4a3e" opacity="0.5"/>
<circle cx="465.26" cy="258.40" r="0.6" fill="#ea4a3e" opacity="0.5"/>
<circle cx="465.63" cy="266.58" r="0.6" fill="#ea4a3e" opacity="0.5"/>
<circle cx="469.90" cy="262.19" r="0.6" fill="#ea4a3e" opacity="0.5"/>
<circle cx="466.34" cy="257.52" r="0.6" fill="#ea4a3e" opacity="0.5"/>
<circle cx="470.43" cy="259.80" r="0.6" fill="#ea4a3e" opacity="0.5"/>
<circle cx="469.02" cy="261.58" r="0.6" fill="#ea4a3e" opacity="0.5"/>
<circle cx="467.17" cy="262.10" r="0.6" fill="#ea4a3e" opacity="0.5"/>
<circle cx="466.34" cy="251.06" r="0.6" fill="#ea4a3e" opacity="0.5"/>
<circle cx="467.93" cy="256.01" r="0.6" fill="#ea4a3e" opacity="0.5"/>
<circle cx="469.09" cy="242.13" r="0.6" fill="#ea4a3e" opacity="0.5"/>
<circle cx="465.13" cy="259.42" r="0.6" fill="#ea4a3e" opacity="0.5"/>
<circle cx="466.66" cy="269.58" r="0.6" fill="#ea4a3e" opacity="0.5"/>
<circle cx="468.59" cy="257.27" r="0.6" fill="#ea4a3e" opacity="0.5"/>
<circle cx="468.28" cy="268.43" r="0.6" fill="#ea4a3e" opacity="0.5"/>
<circle cx="468.39" cy="256.91" r="0.6" fill="#ea4a3e" opacity="0.5"/>
<circle cx="467.57" cy="257.92" r="0.6" fill="#ea4a3e" opacity="0.5"/>
<circle cx="470.03" cy="255.02" r="0.6" fill="#ea4a3e" opacity="0.5"/>
<circle cx="466.33" cy="257.05" r="0.6" fill="#ea4a3e" opacity="0.5"/>
<circle cx="467.79" cy="266.42" r="0.6" fill="#ea4a3e" opacity="0.5"/>
<circle cx="470.27" cy="253.40" r="0.6" fill="#ea4a3e" opacity="0.5"/>
<circle cx="466.86" cy="254.44" r="0.6" fill="#ea4a3e" opacity="0.5"/>
<circle cx="466.05" cy="262.87" r="0.6" fill="#ea4a3e" opacity="0.5"/>
<circle cx="467.83" cy="256.60" r="0.6" fill="#ea4a3e" opacity="0.5"/>
<circle cx="466.71" cy="266.61" r="0.6" fill="#ea4a3e" opacity="0.5"/>
<circle cx="466.61" cy="259.61" r="0.6" fill="#ea4a3e" opacity="0.5"/>
<circle cx="465.99" cy="253.12" r="0.6" fill="#ea4a3e" opacity="0.5"/>
<circle cx="468.76" cy="259.42" r="0.6" fill="#ea4a3e" opacity="0.5"/>
<circle cx="470.55" cy="266.23" r="0.6" fill="#ea4a3e" opacity="0.5"/>
<line x1="467.8" y1="244.925" x2="467.8" y2="255" stroke="#ee6a60" stroke-width="0.5"/>
<line x1="467.8" y1="266" x2="467.8" y2="272.5" stroke="#ee6a60" stroke-width="0.5"/>
<rect x="464.90" y="255.00" width="5.80" height="11.00" fill="#ee6a60" fill-opacity="0.6" stroke="#ee6a60" stroke-width="0.5"/>
<line x1="464.90000000000003" y1="260.8" x2="470.7" y2="260.8" stroke="#ea4a3e" stroke-width="0.7"/>
<line x1="460.5" y1="200.4" x2="467.29999999999995" y2="200.4" stroke="#a6a6a6" stroke-width="1.0"/>
<text x="464.2" y="199.2" font-size="6" fill="#1a1a1a" stroke="#1a1a1a" stroke-width="0.12" text-anchor="middle" font-weight="bold" letter-spacing="0.5">***</text>
<text x="465.9" y="288.5" font-size="7.45" fill="#1a1a1a" stroke="#1a1a1a" stroke-width="0.12" text-anchor="end" transform="rotate(-45 465.9 288.5)">TetO DDX1 WT</text>
<circle cx="496.95" cy="267.31" r="0.6" fill="#4164c4" opacity="0.5"/>
<circle cx="501.72" cy="272.39" r="0.6" fill="#4164c4" opacity="0.5"/>
<circle cx="497.68" cy="255.00" r="0.6" fill="#4164c4" opacity="0.5"/>
<circle cx="496.78" cy="269.75" r="0.6" fill="#4164c4" opacity="0.5"/>
<circle cx="497.58" cy="265.10" r="0.6" fill="#4164c4" opacity="0.5"/>
<circle cx="498.64" cy="268.68" r="0.6" fill="#4164c4" opacity="0.5"/>
<circle cx="498.67" cy="272.39" r="0.6" fill="#4164c4" opacity="0.5"/>
<circle cx="499.11" cy="268.94" r="0.6" fill="#4164c4" opacity="0.5"/>
<circle cx="498.76" cy="269.84" r="0.6" fill="#4164c4" opacity="0.5"/>
<circle cx="496.78" cy="267.67" r="0.6" fill="#4164c4" opacity="0.5"/>
<circle cx="501.05" cy="271.87" r="0.6" fill="#4164c4" opacity="0.5"/>
<circle cx="496.96" cy="267.21" r="0.6" fill="#4164c4" opacity="0.5"/>
<circle cx="498.57" cy="270.13" r="0.6" fill="#4164c4" opacity="0.5"/>
<circle cx="500.18" cy="272.75" r="0.6" fill="#4164c4" opacity="0.5"/>
<circle cx="498.44" cy="271.30" r="0.6" fill="#4164c4" opacity="0.5"/>
<circle cx="500.98" cy="267.02" r="0.6" fill="#4164c4" opacity="0.5"/>
<circle cx="502.07" cy="255.03" r="0.6" fill="#4164c4" opacity="0.5"/>
<circle cx="499.36" cy="268.40" r="0.6" fill="#4164c4" opacity="0.5"/>
<circle cx="499.09" cy="271.02" r="0.6" fill="#4164c4" opacity="0.5"/>
<circle cx="497.66" cy="272.57" r="0.6" fill="#4164c4" opacity="0.5"/>
<circle cx="500.12" cy="269.06" r="0.6" fill="#4164c4" opacity="0.5"/>
<circle cx="498.70" cy="268.92" r="0.6" fill="#4164c4" opacity="0.5"/>
<circle cx="498.03" cy="271.96" r="0.6" fill="#4164c4" opacity="0.5"/>
<circle cx="499.81" cy="267.20" r="0.6" fill="#4164c4" opacity="0.5"/>
<circle cx="501.72" cy="272.88" r="0.6" fill="#4164c4" opacity="0.5"/>
<circle cx="499.49" cy="271.40" r="0.6" fill="#4164c4" opacity="0.5"/>
<circle cx="497.96" cy="268.41" r="0.6" fill="#4164c4" opacity="0.5"/>
<circle cx="500.51" cy="270.72" r="0.6" fill="#4164c4" opacity="0.5"/>
<circle cx="501.48" cy="274.36" r="0.6" fill="#4164c4" opacity="0.5"/>
<circle cx="498.76" cy="270.40" r="0.6" fill="#4164c4" opacity="0.5"/>
<circle cx="497.49" cy="272.58" r="0.6" fill="#4164c4" opacity="0.5"/>
<circle cx="502.36" cy="264.52" r="0.6" fill="#4164c4" opacity="0.5"/>
<circle cx="501.29" cy="268.39" r="0.6" fill="#4164c4" opacity="0.5"/>
<circle cx="497.19" cy="267.06" r="0.6" fill="#4164c4" opacity="0.5"/>
<circle cx="501.48" cy="271.91" r="0.6" fill="#4164c4" opacity="0.5"/>
<circle cx="497.70" cy="270.75" r="0.6" fill="#4164c4" opacity="0.5"/>
<circle cx="501.62" cy="256.01" r="0.6" fill="#4164c4" opacity="0.5"/>
<circle cx="501.11" cy="268.56" r="0.6" fill="#4164c4" opacity="0.5"/>
<circle cx="497.86" cy="274.12" r="0.6" fill="#4164c4" opacity="0.5"/>
<circle cx="497.78" cy="267.85" r="0.6" fill="#4164c4" opacity="0.5"/>
<circle cx="500.38" cy="270.60" r="0.6" fill="#4164c4" opacity="0.5"/>
<circle cx="498.50" cy="267.07" r="0.6" fill="#4164c4" opacity="0.5"/>
<line x1="499.5" y1="260.2" x2="499.5" y2="268" stroke="#5a7cc4" stroke-width="0.5"/>
<line x1="499.5" y1="272" x2="499.5" y2="276" stroke="#5a7cc4" stroke-width="0.5"/>
<rect x="496.60" y="268.00" width="5.80" height="4.00" fill="#5a7cc4" fill-opacity="0.6" stroke="#5a7cc4" stroke-width="0.5"/>
<line x1="496.6" y1="270.3" x2="502.4" y2="270.3" stroke="#4164c4" stroke-width="0.7"/>
<circle cx="508.11" cy="272.20" r="0.6" fill="#ea4a3e" opacity="0.5"/>
<circle cx="504.09" cy="268.50" r="0.6" fill="#ea4a3e" opacity="0.5"/>
<circle cx="507.21" cy="271.57" r="0.6" fill="#ea4a3e" opacity="0.5"/>
<circle cx="507.53" cy="269.13" r="0.6" fill="#ea4a3e" opacity="0.5"/>
<circle cx="505.28" cy="269.88" r="0.6" fill="#ea4a3e" opacity="0.5"/>
<circle cx="506.79" cy="268.21" r="0.6" fill="#ea4a3e" opacity="0.5"/>
<circle cx="508.51" cy="270.72" r="0.6" fill="#ea4a3e" opacity="0.5"/>
<circle cx="504.68" cy="269.13" r="0.6" fill="#ea4a3e" opacity="0.5"/>
<circle cx="505.96" cy="273.78" r="0.6" fill="#ea4a3e" opacity="0.5"/>
<circle cx="508.62" cy="268.81" r="0.6" fill="#ea4a3e" opacity="0.5"/>
<circle cx="503.59" cy="269.12" r="0.6" fill="#ea4a3e" opacity="0.5"/>
<circle cx="508.78" cy="272.14" r="0.6" fill="#ea4a3e" opacity="0.5"/>
<circle cx="505.65" cy="272.02" r="0.6" fill="#ea4a3e" opacity="0.5"/>
<circle cx="505.14" cy="269.02" r="0.6" fill="#ea4a3e" opacity="0.5"/>
<circle cx="504.13" cy="273.93" r="0.6" fill="#ea4a3e" opacity="0.5"/>
<circle cx="509.11" cy="273.17" r="0.6" fill="#ea4a3e" opacity="0.5"/>
<circle cx="508.97" cy="268.90" r="0.6" fill="#ea4a3e" opacity="0.5"/>
<circle cx="505.75" cy="269.64" r="0.6" fill="#ea4a3e" opacity="0.5"/>
<circle cx="508.28" cy="271.08" r="0.6" fill="#ea4a3e" opacity="0.5"/>
<circle cx="504.79" cy="273.05" r="0.6" fill="#ea4a3e" opacity="0.5"/>
<circle cx="508.31" cy="273.43" r="0.6" fill="#ea4a3e" opacity="0.5"/>
<circle cx="505.82" cy="269.47" r="0.6" fill="#ea4a3e" opacity="0.5"/>
<circle cx="504.21" cy="270.52" r="0.6" fill="#ea4a3e" opacity="0.5"/>
<circle cx="508.70" cy="272.67" r="0.6" fill="#ea4a3e" opacity="0.5"/>
<circle cx="507.89" cy="271.64" r="0.6" fill="#ea4a3e" opacity="0.5"/>
<circle cx="504.18" cy="273.38" r="0.6" fill="#ea4a3e" opacity="0.5"/>
<circle cx="507.14" cy="271.57" r="0.6" fill="#ea4a3e" opacity="0.5"/>
<circle cx="506.88" cy="270.75" r="0.6" fill="#ea4a3e" opacity="0.5"/>
<circle cx="506.09" cy="272.25" r="0.6" fill="#ea4a3e" opacity="0.5"/>
<circle cx="507.09" cy="268.25" r="0.6" fill="#ea4a3e" opacity="0.5"/>
<circle cx="507.93" cy="269.58" r="0.6" fill="#ea4a3e" opacity="0.5"/>
<circle cx="504.12" cy="268.29" r="0.6" fill="#ea4a3e" opacity="0.5"/>
<circle cx="504.03" cy="270.81" r="0.6" fill="#ea4a3e" opacity="0.5"/>
<circle cx="503.74" cy="271.31" r="0.6" fill="#ea4a3e" opacity="0.5"/>
<circle cx="506.47" cy="271.91" r="0.6" fill="#ea4a3e" opacity="0.5"/>
<circle cx="505.69" cy="271.27" r="0.6" fill="#ea4a3e" opacity="0.5"/>
<circle cx="507.75" cy="277.60" r="0.6" fill="#ea4a3e" opacity="0.5"/>
<circle cx="509.05" cy="275.52" r="0.6" fill="#ea4a3e" opacity="0.5"/>
<circle cx="503.88" cy="273.29" r="0.6" fill="#ea4a3e" opacity="0.5"/>
<circle cx="504.42" cy="272.86" r="0.6" fill="#ea4a3e" opacity="0.5"/>
<circle cx="506.41" cy="272.07" r="0.6" fill="#ea4a3e" opacity="0.5"/>
<circle cx="505.35" cy="271.60" r="0.6" fill="#ea4a3e" opacity="0.5"/>
<line x1="506.4" y1="264.16" x2="506.4" y2="269.1" stroke="#ee6a60" stroke-width="0.5"/>
<line x1="506.4" y1="273.4" x2="506.4" y2="277.4" stroke="#ee6a60" stroke-width="0.5"/>
<rect x="503.50" y="269.10" width="5.80" height="4.30" fill="#ee6a60" fill-opacity="0.6" stroke="#ee6a60" stroke-width="0.5"/>
<line x1="503.5" y1="271.55" x2="509.29999999999995" y2="271.55" stroke="#ea4a3e" stroke-width="0.7"/>
<line x1="499.55" y1="200.4" x2="506.34999999999997" y2="200.4" stroke="#a6a6a6" stroke-width="1.0"/>
<text x="502.95" y="198.3" font-size="7.8" fill="#1a1a1a" stroke="#1a1a1a" stroke-width="0.12" text-anchor="middle">n.s.</text>
<text x="504.95" y="288.5" font-size="7.45" fill="#1a1a1a" stroke="#1a1a1a" stroke-width="0.12" text-anchor="end" transform="rotate(-45 504.95 288.5)">TetO DDX1 Δ269-295aa</text>
<circle cx="461.40" cy="244.80" r="0.6" fill="#4164c4" opacity="0.5"/>
<circle cx="467.50" cy="205.50" r="0.6" fill="#ea4a3e" opacity="0.35"/>
<circle cx="428.50" cy="251.00" r="0.6" fill="#ea4a3e" opacity="0.4"/>
<circle cx="497.50" cy="250.50" r="0.6" fill="#4164c4" opacity="0.4"/>
<circle cx="499.00" cy="254.00" r="0.6" fill="#4164c4" opacity="0.4"/>
<line x1="425.2" y1="279.5" x2="503" y2="279.5" stroke="#c6c6c6" stroke-width="1.0"/>
<text x="500" y="216.7" font-size="6.3" fill="#4a6ec0" stroke="#4a6ec0" stroke-width="0.12">Dox<tspan font-size="60%" dy="-0.75em">−</tspan></text>
<text x="500" y="223.6" font-size="6.3" fill="#ea5a4e" stroke="#ea5a4e" stroke-width="0.12">Dox<tspan font-size="60%" dy="-0.75em">+</tspan></text>
</svg>
</body></html>
